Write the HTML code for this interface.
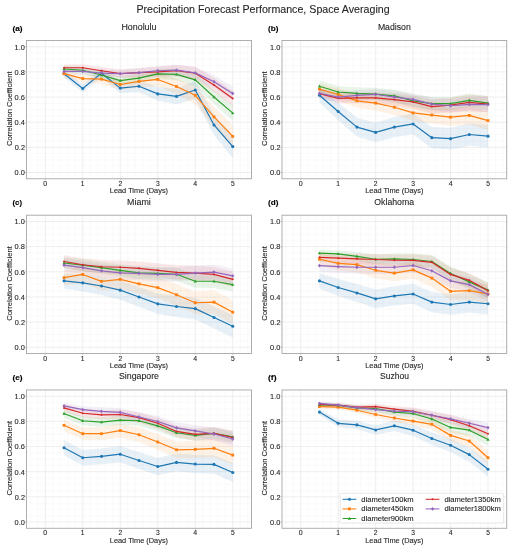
<!DOCTYPE html>
<html><head><meta charset="utf-8"><style>html,body{margin:0;padding:0;background:#fff;width:513px;height:550px;overflow:hidden}</style></head><body>
<svg width="513" height="550" viewBox="0 0 513 550" style="display:block;filter:blur(0.35px)">
<rect width="513" height="550" fill="#fff"/>
<text x="136.45" y="12.70" font-family="Liberation Sans, sans-serif" font-size="10.02" stroke="#262626" stroke-width="0.1" fill="#262626" textLength="253.18" lengthAdjust="spacingAndGlyphs">Precipitation Forecast Performance, Space Averaging</text>
<line x1="30.25" y1="40.46" x2="30.25" y2="178.79" stroke="#f8f8f8" stroke-width="0.7"/>
<line x1="37.75" y1="40.46" x2="37.75" y2="178.79" stroke="#f8f8f8" stroke-width="0.7"/>
<line x1="52.75" y1="40.46" x2="52.75" y2="178.79" stroke="#f8f8f8" stroke-width="0.7"/>
<line x1="60.25" y1="40.46" x2="60.25" y2="178.79" stroke="#f8f8f8" stroke-width="0.7"/>
<line x1="67.75" y1="40.46" x2="67.75" y2="178.79" stroke="#f8f8f8" stroke-width="0.7"/>
<line x1="75.25" y1="40.46" x2="75.25" y2="178.79" stroke="#f8f8f8" stroke-width="0.7"/>
<line x1="90.25" y1="40.46" x2="90.25" y2="178.79" stroke="#f8f8f8" stroke-width="0.7"/>
<line x1="97.75" y1="40.46" x2="97.75" y2="178.79" stroke="#f8f8f8" stroke-width="0.7"/>
<line x1="105.25" y1="40.46" x2="105.25" y2="178.79" stroke="#f8f8f8" stroke-width="0.7"/>
<line x1="112.75" y1="40.46" x2="112.75" y2="178.79" stroke="#f8f8f8" stroke-width="0.7"/>
<line x1="127.75" y1="40.46" x2="127.75" y2="178.79" stroke="#f8f8f8" stroke-width="0.7"/>
<line x1="135.25" y1="40.46" x2="135.25" y2="178.79" stroke="#f8f8f8" stroke-width="0.7"/>
<line x1="142.75" y1="40.46" x2="142.75" y2="178.79" stroke="#f8f8f8" stroke-width="0.7"/>
<line x1="150.25" y1="40.46" x2="150.25" y2="178.79" stroke="#f8f8f8" stroke-width="0.7"/>
<line x1="165.25" y1="40.46" x2="165.25" y2="178.79" stroke="#f8f8f8" stroke-width="0.7"/>
<line x1="172.75" y1="40.46" x2="172.75" y2="178.79" stroke="#f8f8f8" stroke-width="0.7"/>
<line x1="180.25" y1="40.46" x2="180.25" y2="178.79" stroke="#f8f8f8" stroke-width="0.7"/>
<line x1="187.75" y1="40.46" x2="187.75" y2="178.79" stroke="#f8f8f8" stroke-width="0.7"/>
<line x1="202.75" y1="40.46" x2="202.75" y2="178.79" stroke="#f8f8f8" stroke-width="0.7"/>
<line x1="210.25" y1="40.46" x2="210.25" y2="178.79" stroke="#f8f8f8" stroke-width="0.7"/>
<line x1="217.75" y1="40.46" x2="217.75" y2="178.79" stroke="#f8f8f8" stroke-width="0.7"/>
<line x1="225.25" y1="40.46" x2="225.25" y2="178.79" stroke="#f8f8f8" stroke-width="0.7"/>
<line x1="240.25" y1="40.46" x2="240.25" y2="178.79" stroke="#f8f8f8" stroke-width="0.7"/>
<line x1="247.75" y1="40.46" x2="247.75" y2="178.79" stroke="#f8f8f8" stroke-width="0.7"/>
<line x1="26.50" y1="166.21" x2="251.50" y2="166.21" stroke="#f8f8f8" stroke-width="0.7"/>
<line x1="26.50" y1="159.93" x2="251.50" y2="159.93" stroke="#f8f8f8" stroke-width="0.7"/>
<line x1="26.50" y1="153.64" x2="251.50" y2="153.64" stroke="#f8f8f8" stroke-width="0.7"/>
<line x1="26.50" y1="141.06" x2="251.50" y2="141.06" stroke="#f8f8f8" stroke-width="0.7"/>
<line x1="26.50" y1="134.77" x2="251.50" y2="134.77" stroke="#f8f8f8" stroke-width="0.7"/>
<line x1="26.50" y1="128.49" x2="251.50" y2="128.49" stroke="#f8f8f8" stroke-width="0.7"/>
<line x1="26.50" y1="115.91" x2="251.50" y2="115.91" stroke="#f8f8f8" stroke-width="0.7"/>
<line x1="26.50" y1="109.62" x2="251.50" y2="109.62" stroke="#f8f8f8" stroke-width="0.7"/>
<line x1="26.50" y1="103.34" x2="251.50" y2="103.34" stroke="#f8f8f8" stroke-width="0.7"/>
<line x1="26.50" y1="90.76" x2="251.50" y2="90.76" stroke="#f8f8f8" stroke-width="0.7"/>
<line x1="26.50" y1="84.47" x2="251.50" y2="84.47" stroke="#f8f8f8" stroke-width="0.7"/>
<line x1="26.50" y1="78.19" x2="251.50" y2="78.19" stroke="#f8f8f8" stroke-width="0.7"/>
<line x1="26.50" y1="65.61" x2="251.50" y2="65.61" stroke="#f8f8f8" stroke-width="0.7"/>
<line x1="26.50" y1="59.32" x2="251.50" y2="59.32" stroke="#f8f8f8" stroke-width="0.7"/>
<line x1="26.50" y1="53.04" x2="251.50" y2="53.04" stroke="#f8f8f8" stroke-width="0.7"/>
<line x1="45.25" y1="40.46" x2="45.25" y2="178.79" stroke="#ececec" stroke-width="0.9"/>
<line x1="82.75" y1="40.46" x2="82.75" y2="178.79" stroke="#ececec" stroke-width="0.9"/>
<line x1="120.25" y1="40.46" x2="120.25" y2="178.79" stroke="#ececec" stroke-width="0.9"/>
<line x1="157.75" y1="40.46" x2="157.75" y2="178.79" stroke="#ececec" stroke-width="0.9"/>
<line x1="195.25" y1="40.46" x2="195.25" y2="178.79" stroke="#ececec" stroke-width="0.9"/>
<line x1="232.75" y1="40.46" x2="232.75" y2="178.79" stroke="#ececec" stroke-width="0.9"/>
<line x1="26.50" y1="172.50" x2="251.50" y2="172.50" stroke="#ececec" stroke-width="0.9"/>
<line x1="26.50" y1="147.35" x2="251.50" y2="147.35" stroke="#ececec" stroke-width="0.9"/>
<line x1="26.50" y1="122.20" x2="251.50" y2="122.20" stroke="#ececec" stroke-width="0.9"/>
<line x1="26.50" y1="97.05" x2="251.50" y2="97.05" stroke="#ececec" stroke-width="0.9"/>
<line x1="26.50" y1="71.90" x2="251.50" y2="71.90" stroke="#ececec" stroke-width="0.9"/>
<line x1="26.50" y1="46.75" x2="251.50" y2="46.75" stroke="#ececec" stroke-width="0.9"/>
<polygon points="64.00,69.89 82.75,84.45 101.50,68.59 120.25,82.90 139.00,80.23 157.75,87.01 176.50,88.54 195.25,81.06 214.00,114.87 232.75,135.28 232.75,157.91 214.00,135.06 195.25,98.96 176.50,104.30 157.75,100.80 139.00,92.24 120.25,93.35 101.50,77.72 82.75,92.55 64.00,77.43" fill="#1f77b4" fill-opacity="0.1"/>
<polygon points="64.00,69.89 82.75,74.51 101.50,74.63 120.25,79.25 139.00,75.45 157.75,72.55 176.50,78.61 195.25,86.34 214.00,106.82 232.75,125.09 232.75,147.73 214.00,127.01 195.25,104.24 176.50,94.37 157.75,86.34 139.00,87.47 120.25,89.70 101.50,83.76 82.75,82.62 64.00,77.43" fill="#ff7f0e" fill-opacity="0.1"/>
<polygon points="64.00,65.86 82.75,66.87 101.50,71.28 120.25,76.38 139.00,73.51 157.75,68.72 176.50,68.67 195.25,73.50 214.00,90.13 232.75,105.60 232.75,120.69 214.00,103.97 195.25,86.14 176.50,80.16 157.75,79.11 139.00,82.86 120.25,84.78 101.50,78.81 82.75,73.66 64.00,72.15" fill="#2ca02c" fill-opacity="0.1"/>
<polygon points="64.00,64.61 82.75,64.35 101.50,67.00 120.25,69.46 139.00,67.98 157.75,66.71 176.50,64.90 195.25,66.84 214.00,78.06 232.75,90.89 232.75,105.98 214.00,91.90 195.25,79.48 176.50,76.38 157.75,77.09 139.00,77.33 120.25,77.86 101.50,74.53 82.75,71.15 64.00,70.89" fill="#d62728" fill-opacity="0.1"/>
<polygon points="64.00,68.25 82.75,68.04 101.50,69.48 120.25,69.61 139.00,68.20 157.75,65.87 176.50,64.77 195.25,67.04 214.00,75.33 232.75,86.49 232.75,100.32 214.00,88.09 195.25,78.77 176.50,75.51 157.75,75.67 139.00,77.11 120.25,77.71 101.50,76.84 82.75,74.76 64.00,74.54" fill="#9467bd" fill-opacity="0.1"/>
<polyline points="64.00,73.66 82.75,88.50 101.50,73.16 120.25,88.12 139.00,86.24 157.75,93.91 176.50,96.42 195.25,90.01 214.00,124.97 232.75,146.60" fill="none" stroke="#1f77b4" stroke-width="1.2" stroke-linejoin="round"/>
<circle cx="64.00" cy="73.66" r="1.55" fill="#1f77b4"/>
<circle cx="82.75" cy="88.50" r="1.55" fill="#1f77b4"/>
<circle cx="101.50" cy="73.16" r="1.55" fill="#1f77b4"/>
<circle cx="120.25" cy="88.12" r="1.55" fill="#1f77b4"/>
<circle cx="139.00" cy="86.24" r="1.55" fill="#1f77b4"/>
<circle cx="157.75" cy="93.91" r="1.55" fill="#1f77b4"/>
<circle cx="176.50" cy="96.42" r="1.55" fill="#1f77b4"/>
<circle cx="195.25" cy="90.01" r="1.55" fill="#1f77b4"/>
<circle cx="214.00" cy="124.97" r="1.55" fill="#1f77b4"/>
<circle cx="232.75" cy="146.60" r="1.55" fill="#1f77b4"/>
<polyline points="64.00,73.66 82.75,78.56 101.50,79.19 120.25,84.48 139.00,81.46 157.75,79.44 176.50,86.49 195.25,95.29 214.00,116.92 232.75,136.41" fill="none" stroke="#ff7f0e" stroke-width="1.2" stroke-linejoin="round"/>
<rect x="62.60" y="72.26" width="2.8" height="2.8" fill="#ff7f0e"/>
<rect x="81.35" y="77.16" width="2.8" height="2.8" fill="#ff7f0e"/>
<rect x="100.10" y="77.79" width="2.8" height="2.8" fill="#ff7f0e"/>
<rect x="118.85" y="83.08" width="2.8" height="2.8" fill="#ff7f0e"/>
<rect x="137.60" y="80.06" width="2.8" height="2.8" fill="#ff7f0e"/>
<rect x="156.35" y="78.04" width="2.8" height="2.8" fill="#ff7f0e"/>
<rect x="175.10" y="85.09" width="2.8" height="2.8" fill="#ff7f0e"/>
<rect x="193.85" y="93.89" width="2.8" height="2.8" fill="#ff7f0e"/>
<rect x="212.60" y="115.52" width="2.8" height="2.8" fill="#ff7f0e"/>
<rect x="231.35" y="135.01" width="2.8" height="2.8" fill="#ff7f0e"/>
<polyline points="64.00,69.01 82.75,70.27 101.50,75.04 120.25,80.58 139.00,78.19 157.75,73.91 176.50,74.41 195.25,79.82 214.00,97.05 232.75,113.15" fill="none" stroke="#2ca02c" stroke-width="1.2" stroke-linejoin="round"/>
<polygon points="64.00,67.30 65.60,70.18 62.40,70.18" fill="#2ca02c"/>
<polygon points="82.75,68.55 84.35,71.43 81.15,71.43" fill="#2ca02c"/>
<polygon points="101.50,73.33 103.10,76.21 99.90,76.21" fill="#2ca02c"/>
<polygon points="120.25,78.86 121.85,81.74 118.65,81.74" fill="#2ca02c"/>
<polygon points="139.00,76.48 140.60,79.36 137.40,79.36" fill="#2ca02c"/>
<polygon points="157.75,72.20 159.35,75.08 156.15,75.08" fill="#2ca02c"/>
<polygon points="176.50,72.70 178.10,75.58 174.90,75.58" fill="#2ca02c"/>
<polygon points="195.25,78.11 196.85,80.99 193.65,80.99" fill="#2ca02c"/>
<polygon points="214.00,95.34 215.60,98.22 212.40,98.22" fill="#2ca02c"/>
<polygon points="232.75,111.43 234.35,114.31 231.15,114.31" fill="#2ca02c"/>
<polyline points="64.00,67.75 82.75,67.75 101.50,70.77 120.25,73.66 139.00,72.65 157.75,71.90 176.50,70.64 195.25,73.16 214.00,84.98 232.75,98.43" fill="none" stroke="#d62728" stroke-width="1.2" stroke-linejoin="round"/>
<circle cx="64.00" cy="67.75" r="1.0" fill="#d62728"/>
<circle cx="82.75" cy="67.75" r="1.0" fill="#d62728"/>
<circle cx="101.50" cy="70.77" r="1.0" fill="#d62728"/>
<circle cx="120.25" cy="73.66" r="1.0" fill="#d62728"/>
<circle cx="139.00" cy="72.65" r="1.0" fill="#d62728"/>
<circle cx="157.75" cy="71.90" r="1.0" fill="#d62728"/>
<circle cx="176.50" cy="70.64" r="1.0" fill="#d62728"/>
<circle cx="195.25" cy="73.16" r="1.0" fill="#d62728"/>
<circle cx="214.00" cy="84.98" r="1.0" fill="#d62728"/>
<circle cx="232.75" cy="98.43" r="1.0" fill="#d62728"/>
<polyline points="64.00,71.40 82.75,71.40 101.50,73.16 120.25,73.66 139.00,72.65 157.75,70.77 176.50,70.14 195.25,72.91 214.00,81.71 232.75,93.40" fill="none" stroke="#9467bd" stroke-width="1.2" stroke-linejoin="round"/>
<polygon points="64.00,69.50 65.61,71.40 64.00,73.30 62.38,71.40" fill="#9467bd"/>
<polygon points="82.75,69.50 84.36,71.40 82.75,73.30 81.14,71.40" fill="#9467bd"/>
<polygon points="101.50,71.26 103.11,73.16 101.50,75.06 99.89,73.16" fill="#9467bd"/>
<polygon points="120.25,71.76 121.86,73.66 120.25,75.56 118.64,73.66" fill="#9467bd"/>
<polygon points="139.00,70.75 140.62,72.65 139.00,74.55 137.38,72.65" fill="#9467bd"/>
<polygon points="157.75,68.87 159.37,70.77 157.75,72.67 156.13,70.77" fill="#9467bd"/>
<polygon points="176.50,68.24 178.12,70.14 176.50,72.04 174.88,70.14" fill="#9467bd"/>
<polygon points="195.25,71.01 196.87,72.91 195.25,74.81 193.63,72.91" fill="#9467bd"/>
<polygon points="214.00,79.81 215.62,81.71 214.00,83.61 212.38,81.71" fill="#9467bd"/>
<polygon points="232.75,91.50 234.37,93.40 232.75,95.30 231.13,93.40" fill="#9467bd"/>
<rect x="26.50" y="40.46" width="225.00" height="138.32" fill="none" stroke="#a6a6a6" stroke-width="0.9"/>
<line x1="45.25" y1="178.79" x2="45.25" y2="180.39" stroke="#bdbdbd" stroke-width="0.8"/>
<text x="43.29" y="185.99" font-family="Liberation Sans, sans-serif" font-size="6.99" stroke="#262626" stroke-width="0.1" fill="#262626" textLength="3.90" lengthAdjust="spacingAndGlyphs">0</text>
<line x1="82.75" y1="178.79" x2="82.75" y2="180.39" stroke="#bdbdbd" stroke-width="0.8"/>
<text x="80.80" y="185.99" font-family="Liberation Sans, sans-serif" font-size="6.99" stroke="#262626" stroke-width="0.1" fill="#262626" textLength="3.71" lengthAdjust="spacingAndGlyphs">1</text>
<line x1="120.25" y1="178.79" x2="120.25" y2="180.39" stroke="#bdbdbd" stroke-width="0.8"/>
<text x="118.38" y="185.99" font-family="Liberation Sans, sans-serif" font-size="6.99" stroke="#262626" stroke-width="0.1" fill="#262626" textLength="3.75" lengthAdjust="spacingAndGlyphs">2</text>
<line x1="157.75" y1="178.79" x2="157.75" y2="180.39" stroke="#bdbdbd" stroke-width="0.8"/>
<text x="155.88" y="185.99" font-family="Liberation Sans, sans-serif" font-size="6.99" stroke="#262626" stroke-width="0.1" fill="#262626" textLength="3.75" lengthAdjust="spacingAndGlyphs">3</text>
<line x1="195.25" y1="178.79" x2="195.25" y2="180.39" stroke="#bdbdbd" stroke-width="0.8"/>
<text x="193.34" y="185.99" font-family="Liberation Sans, sans-serif" font-size="6.99" stroke="#262626" stroke-width="0.1" fill="#262626" textLength="3.89" lengthAdjust="spacingAndGlyphs">4</text>
<line x1="232.75" y1="178.79" x2="232.75" y2="180.39" stroke="#bdbdbd" stroke-width="0.8"/>
<text x="230.90" y="185.99" font-family="Liberation Sans, sans-serif" font-size="6.99" stroke="#262626" stroke-width="0.1" fill="#262626" textLength="3.71" lengthAdjust="spacingAndGlyphs">5</text>
<line x1="24.90" y1="172.50" x2="26.50" y2="172.50" stroke="#bdbdbd" stroke-width="0.8"/>
<text x="14.57" y="175.30" font-family="Liberation Sans, sans-serif" font-size="6.99" stroke="#262626" stroke-width="0.1" fill="#262626" textLength="10.29" lengthAdjust="spacingAndGlyphs">0.0</text>
<line x1="24.90" y1="147.35" x2="26.50" y2="147.35" stroke="#bdbdbd" stroke-width="0.8"/>
<text x="14.80" y="150.15" font-family="Liberation Sans, sans-serif" font-size="6.99" stroke="#262626" stroke-width="0.1" fill="#262626" textLength="10.16" lengthAdjust="spacingAndGlyphs">0.2</text>
<line x1="24.90" y1="122.20" x2="26.50" y2="122.20" stroke="#bdbdbd" stroke-width="0.8"/>
<text x="14.50" y="125.00" font-family="Liberation Sans, sans-serif" font-size="6.99" stroke="#262626" stroke-width="0.1" fill="#262626" textLength="10.33" lengthAdjust="spacingAndGlyphs">0.4</text>
<line x1="24.90" y1="97.05" x2="26.50" y2="97.05" stroke="#bdbdbd" stroke-width="0.8"/>
<text x="14.53" y="99.85" font-family="Liberation Sans, sans-serif" font-size="6.99" stroke="#262626" stroke-width="0.1" fill="#262626" textLength="10.37" lengthAdjust="spacingAndGlyphs">0.6</text>
<line x1="24.90" y1="71.90" x2="26.50" y2="71.90" stroke="#bdbdbd" stroke-width="0.8"/>
<text x="14.56" y="74.70" font-family="Liberation Sans, sans-serif" font-size="6.99" stroke="#262626" stroke-width="0.1" fill="#262626" textLength="10.33" lengthAdjust="spacingAndGlyphs">0.8</text>
<line x1="24.90" y1="46.75" x2="26.50" y2="46.75" stroke="#bdbdbd" stroke-width="0.8"/>
<text x="14.61" y="49.55" font-family="Liberation Sans, sans-serif" font-size="6.99" stroke="#262626" stroke-width="0.1" fill="#262626" textLength="10.25" lengthAdjust="spacingAndGlyphs">1.0</text>
<text x="109.81" y="193.49" font-family="Liberation Sans, sans-serif" font-size="6.99" stroke="#262626" stroke-width="0.1" fill="#262626" textLength="58.24" lengthAdjust="spacingAndGlyphs">Lead Time (Days)</text>
<text transform="translate(11.70,108.62) rotate(-90)" x="-37.45" y="0" font-family="Liberation Sans, sans-serif" font-size="6.99" stroke="#262626" stroke-width="0.1" fill="#262626" textLength="74.56" lengthAdjust="spacingAndGlyphs">Correlation Coefficient</text>
<text x="121.42" y="29.90" font-family="Liberation Sans, sans-serif" font-size="8.33" stroke="#262626" stroke-width="0.1" fill="#262626" textLength="35.06" lengthAdjust="spacingAndGlyphs">Honolulu</text>
<text x="12.48" y="30.56" font-family="Liberation Sans, sans-serif" font-size="6.92" font-weight="bold" stroke="#000" stroke-width="0.1" fill="#000" textLength="10.15" lengthAdjust="spacingAndGlyphs">(a)</text>
<line x1="285.75" y1="40.46" x2="285.75" y2="178.79" stroke="#f8f8f8" stroke-width="0.7"/>
<line x1="293.24" y1="40.46" x2="293.24" y2="178.79" stroke="#f8f8f8" stroke-width="0.7"/>
<line x1="308.22" y1="40.46" x2="308.22" y2="178.79" stroke="#f8f8f8" stroke-width="0.7"/>
<line x1="315.71" y1="40.46" x2="315.71" y2="178.79" stroke="#f8f8f8" stroke-width="0.7"/>
<line x1="323.20" y1="40.46" x2="323.20" y2="178.79" stroke="#f8f8f8" stroke-width="0.7"/>
<line x1="330.70" y1="40.46" x2="330.70" y2="178.79" stroke="#f8f8f8" stroke-width="0.7"/>
<line x1="345.68" y1="40.46" x2="345.68" y2="178.79" stroke="#f8f8f8" stroke-width="0.7"/>
<line x1="353.17" y1="40.46" x2="353.17" y2="178.79" stroke="#f8f8f8" stroke-width="0.7"/>
<line x1="360.66" y1="40.46" x2="360.66" y2="178.79" stroke="#f8f8f8" stroke-width="0.7"/>
<line x1="368.15" y1="40.46" x2="368.15" y2="178.79" stroke="#f8f8f8" stroke-width="0.7"/>
<line x1="383.14" y1="40.46" x2="383.14" y2="178.79" stroke="#f8f8f8" stroke-width="0.7"/>
<line x1="390.63" y1="40.46" x2="390.63" y2="178.79" stroke="#f8f8f8" stroke-width="0.7"/>
<line x1="398.12" y1="40.46" x2="398.12" y2="178.79" stroke="#f8f8f8" stroke-width="0.7"/>
<line x1="405.61" y1="40.46" x2="405.61" y2="178.79" stroke="#f8f8f8" stroke-width="0.7"/>
<line x1="420.60" y1="40.46" x2="420.60" y2="178.79" stroke="#f8f8f8" stroke-width="0.7"/>
<line x1="428.09" y1="40.46" x2="428.09" y2="178.79" stroke="#f8f8f8" stroke-width="0.7"/>
<line x1="435.58" y1="40.46" x2="435.58" y2="178.79" stroke="#f8f8f8" stroke-width="0.7"/>
<line x1="443.07" y1="40.46" x2="443.07" y2="178.79" stroke="#f8f8f8" stroke-width="0.7"/>
<line x1="458.05" y1="40.46" x2="458.05" y2="178.79" stroke="#f8f8f8" stroke-width="0.7"/>
<line x1="465.55" y1="40.46" x2="465.55" y2="178.79" stroke="#f8f8f8" stroke-width="0.7"/>
<line x1="473.04" y1="40.46" x2="473.04" y2="178.79" stroke="#f8f8f8" stroke-width="0.7"/>
<line x1="480.53" y1="40.46" x2="480.53" y2="178.79" stroke="#f8f8f8" stroke-width="0.7"/>
<line x1="495.51" y1="40.46" x2="495.51" y2="178.79" stroke="#f8f8f8" stroke-width="0.7"/>
<line x1="503.00" y1="40.46" x2="503.00" y2="178.79" stroke="#f8f8f8" stroke-width="0.7"/>
<line x1="282.00" y1="166.21" x2="506.75" y2="166.21" stroke="#f8f8f8" stroke-width="0.7"/>
<line x1="282.00" y1="159.93" x2="506.75" y2="159.93" stroke="#f8f8f8" stroke-width="0.7"/>
<line x1="282.00" y1="153.64" x2="506.75" y2="153.64" stroke="#f8f8f8" stroke-width="0.7"/>
<line x1="282.00" y1="141.06" x2="506.75" y2="141.06" stroke="#f8f8f8" stroke-width="0.7"/>
<line x1="282.00" y1="134.77" x2="506.75" y2="134.77" stroke="#f8f8f8" stroke-width="0.7"/>
<line x1="282.00" y1="128.49" x2="506.75" y2="128.49" stroke="#f8f8f8" stroke-width="0.7"/>
<line x1="282.00" y1="115.91" x2="506.75" y2="115.91" stroke="#f8f8f8" stroke-width="0.7"/>
<line x1="282.00" y1="109.62" x2="506.75" y2="109.62" stroke="#f8f8f8" stroke-width="0.7"/>
<line x1="282.00" y1="103.34" x2="506.75" y2="103.34" stroke="#f8f8f8" stroke-width="0.7"/>
<line x1="282.00" y1="90.76" x2="506.75" y2="90.76" stroke="#f8f8f8" stroke-width="0.7"/>
<line x1="282.00" y1="84.47" x2="506.75" y2="84.47" stroke="#f8f8f8" stroke-width="0.7"/>
<line x1="282.00" y1="78.19" x2="506.75" y2="78.19" stroke="#f8f8f8" stroke-width="0.7"/>
<line x1="282.00" y1="65.61" x2="506.75" y2="65.61" stroke="#f8f8f8" stroke-width="0.7"/>
<line x1="282.00" y1="59.32" x2="506.75" y2="59.32" stroke="#f8f8f8" stroke-width="0.7"/>
<line x1="282.00" y1="53.04" x2="506.75" y2="53.04" stroke="#f8f8f8" stroke-width="0.7"/>
<line x1="300.73" y1="40.46" x2="300.73" y2="178.79" stroke="#ececec" stroke-width="0.9"/>
<line x1="338.19" y1="40.46" x2="338.19" y2="178.79" stroke="#ececec" stroke-width="0.9"/>
<line x1="375.65" y1="40.46" x2="375.65" y2="178.79" stroke="#ececec" stroke-width="0.9"/>
<line x1="413.10" y1="40.46" x2="413.10" y2="178.79" stroke="#ececec" stroke-width="0.9"/>
<line x1="450.56" y1="40.46" x2="450.56" y2="178.79" stroke="#ececec" stroke-width="0.9"/>
<line x1="488.02" y1="40.46" x2="488.02" y2="178.79" stroke="#ececec" stroke-width="0.9"/>
<line x1="282.00" y1="172.50" x2="506.75" y2="172.50" stroke="#ececec" stroke-width="0.9"/>
<line x1="282.00" y1="147.35" x2="506.75" y2="147.35" stroke="#ececec" stroke-width="0.9"/>
<line x1="282.00" y1="122.20" x2="506.75" y2="122.20" stroke="#ececec" stroke-width="0.9"/>
<line x1="282.00" y1="97.05" x2="506.75" y2="97.05" stroke="#ececec" stroke-width="0.9"/>
<line x1="282.00" y1="71.90" x2="506.75" y2="71.90" stroke="#ececec" stroke-width="0.9"/>
<line x1="282.00" y1="46.75" x2="506.75" y2="46.75" stroke="#ececec" stroke-width="0.9"/>
<polygon points="319.46,88.37 338.19,102.77 356.92,117.78 375.65,122.63 394.38,117.01 413.10,113.57 431.83,127.01 450.56,127.78 469.29,123.41 488.02,124.84 488.02,147.48 469.29,145.64 450.56,149.57 431.83,148.33 413.10,134.36 394.38,137.20 375.65,142.14 356.92,136.43 338.19,120.26 319.46,102.21" fill="#1f77b4" fill-opacity="0.1"/>
<polygon points="319.46,84.10 338.19,88.33 356.92,94.01 375.65,95.78 394.38,99.50 413.10,104.77 431.83,106.55 450.56,108.35 469.29,106.28 488.02,111.13 488.02,130.00 469.29,124.54 450.56,125.99 431.83,123.51 413.10,121.02 394.38,114.97 375.65,110.39 356.92,107.64 338.19,100.74 319.46,94.16" fill="#ff7f0e" fill-opacity="0.1"/>
<polygon points="319.46,80.58 338.19,86.22 356.92,87.34 375.65,87.95 394.38,89.57 413.10,94.47 431.83,97.09 450.56,96.95 469.29,93.54 488.02,96.17 488.02,110.00 469.29,107.10 450.56,110.23 431.83,110.09 413.10,107.18 394.38,102.01 375.65,100.11 356.92,99.22 338.19,97.82 319.46,91.89" fill="#2ca02c" fill-opacity="0.1"/>
<polygon points="319.46,89.25 338.19,93.49 356.92,92.56 375.65,92.15 394.38,93.49 413.10,95.46 431.83,99.69 450.56,97.76 469.29,94.70 488.02,95.92 488.02,112.27 469.29,110.21 450.56,112.43 431.83,113.52 413.10,108.45 394.38,105.64 375.65,103.46 356.92,103.04 338.19,103.13 319.46,98.06" fill="#d62728" fill-opacity="0.1"/>
<polygon points="319.46,88.88 338.19,92.30 356.92,90.19 375.65,88.83 394.38,91.25 413.10,93.29 431.83,97.59 450.56,98.88 469.29,97.27 488.02,97.05 488.02,112.14 469.29,111.66 450.56,112.57 431.83,110.59 413.10,105.59 394.38,102.85 375.65,99.73 356.92,100.39 338.19,101.80 319.46,97.68" fill="#9467bd" fill-opacity="0.1"/>
<polyline points="319.46,95.29 338.19,111.51 356.92,127.10 375.65,132.39 394.38,127.10 413.10,123.96 431.83,137.67 450.56,138.67 469.29,134.52 488.02,136.16" fill="none" stroke="#1f77b4" stroke-width="1.2" stroke-linejoin="round"/>
<circle cx="319.46" cy="95.29" r="1.55" fill="#1f77b4"/>
<circle cx="338.19" cy="111.51" r="1.55" fill="#1f77b4"/>
<circle cx="356.92" cy="127.10" r="1.55" fill="#1f77b4"/>
<circle cx="375.65" cy="132.39" r="1.55" fill="#1f77b4"/>
<circle cx="394.38" cy="127.10" r="1.55" fill="#1f77b4"/>
<circle cx="413.10" cy="123.96" r="1.55" fill="#1f77b4"/>
<circle cx="431.83" cy="137.67" r="1.55" fill="#1f77b4"/>
<circle cx="450.56" cy="138.67" r="1.55" fill="#1f77b4"/>
<circle cx="469.29" cy="134.52" r="1.55" fill="#1f77b4"/>
<circle cx="488.02" cy="136.16" r="1.55" fill="#1f77b4"/>
<polyline points="319.46,89.13 338.19,94.53 356.92,100.82 375.65,103.09 394.38,107.24 413.10,112.89 431.83,115.03 450.56,117.17 469.29,115.41 488.02,120.57" fill="none" stroke="#ff7f0e" stroke-width="1.2" stroke-linejoin="round"/>
<rect x="318.06" y="87.73" width="2.8" height="2.8" fill="#ff7f0e"/>
<rect x="336.79" y="93.13" width="2.8" height="2.8" fill="#ff7f0e"/>
<rect x="355.52" y="99.42" width="2.8" height="2.8" fill="#ff7f0e"/>
<rect x="374.25" y="101.69" width="2.8" height="2.8" fill="#ff7f0e"/>
<rect x="392.98" y="105.84" width="2.8" height="2.8" fill="#ff7f0e"/>
<rect x="411.70" y="111.49" width="2.8" height="2.8" fill="#ff7f0e"/>
<rect x="430.43" y="113.63" width="2.8" height="2.8" fill="#ff7f0e"/>
<rect x="449.16" y="115.77" width="2.8" height="2.8" fill="#ff7f0e"/>
<rect x="467.89" y="114.01" width="2.8" height="2.8" fill="#ff7f0e"/>
<rect x="486.62" y="119.17" width="2.8" height="2.8" fill="#ff7f0e"/>
<polyline points="319.46,86.24 338.19,92.02 356.92,93.28 375.65,94.03 394.38,95.79 413.10,100.82 431.83,103.59 450.56,103.59 469.29,100.32 488.02,103.09" fill="none" stroke="#2ca02c" stroke-width="1.2" stroke-linejoin="round"/>
<polygon points="319.46,84.52 321.06,87.40 317.86,87.40" fill="#2ca02c"/>
<polygon points="338.19,90.31 339.79,93.19 336.59,93.19" fill="#2ca02c"/>
<polygon points="356.92,91.57 358.52,94.45 355.32,94.45" fill="#2ca02c"/>
<polygon points="375.65,92.32 377.25,95.20 374.05,95.20" fill="#2ca02c"/>
<polygon points="394.38,94.08 395.98,96.96 392.77,96.96" fill="#2ca02c"/>
<polygon points="413.10,99.11 414.70,101.99 411.50,101.99" fill="#2ca02c"/>
<polygon points="431.83,101.88 433.43,104.76 430.23,104.76" fill="#2ca02c"/>
<polygon points="450.56,101.88 452.16,104.76 448.96,104.76" fill="#2ca02c"/>
<polygon points="469.29,98.61 470.89,101.49 467.69,101.49" fill="#2ca02c"/>
<polygon points="488.02,101.37 489.62,104.25 486.42,104.25" fill="#2ca02c"/>
<polyline points="319.46,93.65 338.19,98.31 356.92,97.80 375.65,97.80 394.38,99.56 413.10,101.95 431.83,106.61 450.56,105.10 469.29,102.46 488.02,104.09" fill="none" stroke="#d62728" stroke-width="1.2" stroke-linejoin="round"/>
<circle cx="319.46" cy="93.65" r="1.0" fill="#d62728"/>
<circle cx="338.19" cy="98.31" r="1.0" fill="#d62728"/>
<circle cx="356.92" cy="97.80" r="1.0" fill="#d62728"/>
<circle cx="375.65" cy="97.80" r="1.0" fill="#d62728"/>
<circle cx="394.38" cy="99.56" r="1.0" fill="#d62728"/>
<circle cx="413.10" cy="101.95" r="1.0" fill="#d62728"/>
<circle cx="431.83" cy="106.61" r="1.0" fill="#d62728"/>
<circle cx="450.56" cy="105.10" r="1.0" fill="#d62728"/>
<circle cx="469.29" cy="102.46" r="1.0" fill="#d62728"/>
<circle cx="488.02" cy="104.09" r="1.0" fill="#d62728"/>
<polyline points="319.46,93.28 338.19,97.05 356.92,95.29 375.65,94.28 394.38,97.05 413.10,99.44 431.83,104.09 450.56,105.73 469.29,104.47 488.02,104.59" fill="none" stroke="#9467bd" stroke-width="1.2" stroke-linejoin="round"/>
<polygon points="319.46,91.38 321.07,93.28 319.46,95.18 317.84,93.28" fill="#9467bd"/>
<polygon points="338.19,95.15 339.80,97.05 338.19,98.95 336.57,97.05" fill="#9467bd"/>
<polygon points="356.92,93.39 358.53,95.29 356.92,97.19 355.30,95.29" fill="#9467bd"/>
<polygon points="375.65,92.38 377.26,94.28 375.65,96.18 374.03,94.28" fill="#9467bd"/>
<polygon points="394.38,95.15 395.99,97.05 394.38,98.95 392.76,97.05" fill="#9467bd"/>
<polygon points="413.10,97.54 414.72,99.44 413.10,101.34 411.49,99.44" fill="#9467bd"/>
<polygon points="431.83,102.19 433.45,104.09 431.83,105.99 430.22,104.09" fill="#9467bd"/>
<polygon points="450.56,103.83 452.18,105.73 450.56,107.63 448.95,105.73" fill="#9467bd"/>
<polygon points="469.29,102.57 470.91,104.47 469.29,106.37 467.68,104.47" fill="#9467bd"/>
<polygon points="488.02,102.69 489.64,104.59 488.02,106.50 486.41,104.59" fill="#9467bd"/>
<rect x="282.00" y="40.46" width="224.75" height="138.32" fill="none" stroke="#a6a6a6" stroke-width="0.9"/>
<line x1="300.73" y1="178.79" x2="300.73" y2="180.39" stroke="#bdbdbd" stroke-width="0.8"/>
<text x="298.76" y="185.99" font-family="Liberation Sans, sans-serif" font-size="6.99" stroke="#262626" stroke-width="0.1" fill="#262626" textLength="3.90" lengthAdjust="spacingAndGlyphs">0</text>
<line x1="338.19" y1="178.79" x2="338.19" y2="180.39" stroke="#bdbdbd" stroke-width="0.8"/>
<text x="336.24" y="185.99" font-family="Liberation Sans, sans-serif" font-size="6.99" stroke="#262626" stroke-width="0.1" fill="#262626" textLength="3.71" lengthAdjust="spacingAndGlyphs">1</text>
<line x1="375.65" y1="178.79" x2="375.65" y2="180.39" stroke="#bdbdbd" stroke-width="0.8"/>
<text x="373.77" y="185.99" font-family="Liberation Sans, sans-serif" font-size="6.99" stroke="#262626" stroke-width="0.1" fill="#262626" textLength="3.75" lengthAdjust="spacingAndGlyphs">2</text>
<line x1="413.10" y1="178.79" x2="413.10" y2="180.39" stroke="#bdbdbd" stroke-width="0.8"/>
<text x="411.23" y="185.99" font-family="Liberation Sans, sans-serif" font-size="6.99" stroke="#262626" stroke-width="0.1" fill="#262626" textLength="3.75" lengthAdjust="spacingAndGlyphs">3</text>
<line x1="450.56" y1="178.79" x2="450.56" y2="180.39" stroke="#bdbdbd" stroke-width="0.8"/>
<text x="448.65" y="185.99" font-family="Liberation Sans, sans-serif" font-size="6.99" stroke="#262626" stroke-width="0.1" fill="#262626" textLength="3.89" lengthAdjust="spacingAndGlyphs">4</text>
<line x1="488.02" y1="178.79" x2="488.02" y2="180.39" stroke="#bdbdbd" stroke-width="0.8"/>
<text x="486.17" y="185.99" font-family="Liberation Sans, sans-serif" font-size="6.99" stroke="#262626" stroke-width="0.1" fill="#262626" textLength="3.71" lengthAdjust="spacingAndGlyphs">5</text>
<line x1="280.40" y1="172.50" x2="282.00" y2="172.50" stroke="#bdbdbd" stroke-width="0.8"/>
<text x="270.07" y="175.30" font-family="Liberation Sans, sans-serif" font-size="6.99" stroke="#262626" stroke-width="0.1" fill="#262626" textLength="10.29" lengthAdjust="spacingAndGlyphs">0.0</text>
<line x1="280.40" y1="147.35" x2="282.00" y2="147.35" stroke="#bdbdbd" stroke-width="0.8"/>
<text x="270.30" y="150.15" font-family="Liberation Sans, sans-serif" font-size="6.99" stroke="#262626" stroke-width="0.1" fill="#262626" textLength="10.16" lengthAdjust="spacingAndGlyphs">0.2</text>
<line x1="280.40" y1="122.20" x2="282.00" y2="122.20" stroke="#bdbdbd" stroke-width="0.8"/>
<text x="270.00" y="125.00" font-family="Liberation Sans, sans-serif" font-size="6.99" stroke="#262626" stroke-width="0.1" fill="#262626" textLength="10.33" lengthAdjust="spacingAndGlyphs">0.4</text>
<line x1="280.40" y1="97.05" x2="282.00" y2="97.05" stroke="#bdbdbd" stroke-width="0.8"/>
<text x="270.03" y="99.85" font-family="Liberation Sans, sans-serif" font-size="6.99" stroke="#262626" stroke-width="0.1" fill="#262626" textLength="10.37" lengthAdjust="spacingAndGlyphs">0.6</text>
<line x1="280.40" y1="71.90" x2="282.00" y2="71.90" stroke="#bdbdbd" stroke-width="0.8"/>
<text x="270.06" y="74.70" font-family="Liberation Sans, sans-serif" font-size="6.99" stroke="#262626" stroke-width="0.1" fill="#262626" textLength="10.33" lengthAdjust="spacingAndGlyphs">0.8</text>
<line x1="280.40" y1="46.75" x2="282.00" y2="46.75" stroke="#bdbdbd" stroke-width="0.8"/>
<text x="270.11" y="49.55" font-family="Liberation Sans, sans-serif" font-size="6.99" stroke="#262626" stroke-width="0.1" fill="#262626" textLength="10.25" lengthAdjust="spacingAndGlyphs">1.0</text>
<text x="365.19" y="193.49" font-family="Liberation Sans, sans-serif" font-size="6.99" stroke="#262626" stroke-width="0.1" fill="#262626" textLength="58.24" lengthAdjust="spacingAndGlyphs">Lead Time (Days)</text>
<text transform="translate(267.20,108.62) rotate(-90)" x="-37.45" y="0" font-family="Liberation Sans, sans-serif" font-size="6.99" stroke="#262626" stroke-width="0.1" fill="#262626" textLength="74.56" lengthAdjust="spacingAndGlyphs">Correlation Coefficient</text>
<text x="377.90" y="29.90" font-family="Liberation Sans, sans-serif" font-size="8.33" stroke="#262626" stroke-width="0.1" fill="#262626" textLength="32.82" lengthAdjust="spacingAndGlyphs">Madison</text>
<text x="267.99" y="30.56" font-family="Liberation Sans, sans-serif" font-size="6.92" font-weight="bold" stroke="#000" stroke-width="0.1" fill="#000" textLength="10.43" lengthAdjust="spacingAndGlyphs">(b)</text>
<line x1="30.25" y1="215.21" x2="30.25" y2="353.54" stroke="#f8f8f8" stroke-width="0.7"/>
<line x1="37.75" y1="215.21" x2="37.75" y2="353.54" stroke="#f8f8f8" stroke-width="0.7"/>
<line x1="52.75" y1="215.21" x2="52.75" y2="353.54" stroke="#f8f8f8" stroke-width="0.7"/>
<line x1="60.25" y1="215.21" x2="60.25" y2="353.54" stroke="#f8f8f8" stroke-width="0.7"/>
<line x1="67.75" y1="215.21" x2="67.75" y2="353.54" stroke="#f8f8f8" stroke-width="0.7"/>
<line x1="75.25" y1="215.21" x2="75.25" y2="353.54" stroke="#f8f8f8" stroke-width="0.7"/>
<line x1="90.25" y1="215.21" x2="90.25" y2="353.54" stroke="#f8f8f8" stroke-width="0.7"/>
<line x1="97.75" y1="215.21" x2="97.75" y2="353.54" stroke="#f8f8f8" stroke-width="0.7"/>
<line x1="105.25" y1="215.21" x2="105.25" y2="353.54" stroke="#f8f8f8" stroke-width="0.7"/>
<line x1="112.75" y1="215.21" x2="112.75" y2="353.54" stroke="#f8f8f8" stroke-width="0.7"/>
<line x1="127.75" y1="215.21" x2="127.75" y2="353.54" stroke="#f8f8f8" stroke-width="0.7"/>
<line x1="135.25" y1="215.21" x2="135.25" y2="353.54" stroke="#f8f8f8" stroke-width="0.7"/>
<line x1="142.75" y1="215.21" x2="142.75" y2="353.54" stroke="#f8f8f8" stroke-width="0.7"/>
<line x1="150.25" y1="215.21" x2="150.25" y2="353.54" stroke="#f8f8f8" stroke-width="0.7"/>
<line x1="165.25" y1="215.21" x2="165.25" y2="353.54" stroke="#f8f8f8" stroke-width="0.7"/>
<line x1="172.75" y1="215.21" x2="172.75" y2="353.54" stroke="#f8f8f8" stroke-width="0.7"/>
<line x1="180.25" y1="215.21" x2="180.25" y2="353.54" stroke="#f8f8f8" stroke-width="0.7"/>
<line x1="187.75" y1="215.21" x2="187.75" y2="353.54" stroke="#f8f8f8" stroke-width="0.7"/>
<line x1="202.75" y1="215.21" x2="202.75" y2="353.54" stroke="#f8f8f8" stroke-width="0.7"/>
<line x1="210.25" y1="215.21" x2="210.25" y2="353.54" stroke="#f8f8f8" stroke-width="0.7"/>
<line x1="217.75" y1="215.21" x2="217.75" y2="353.54" stroke="#f8f8f8" stroke-width="0.7"/>
<line x1="225.25" y1="215.21" x2="225.25" y2="353.54" stroke="#f8f8f8" stroke-width="0.7"/>
<line x1="240.25" y1="215.21" x2="240.25" y2="353.54" stroke="#f8f8f8" stroke-width="0.7"/>
<line x1="247.75" y1="215.21" x2="247.75" y2="353.54" stroke="#f8f8f8" stroke-width="0.7"/>
<line x1="26.50" y1="340.96" x2="251.50" y2="340.96" stroke="#f8f8f8" stroke-width="0.7"/>
<line x1="26.50" y1="334.68" x2="251.50" y2="334.68" stroke="#f8f8f8" stroke-width="0.7"/>
<line x1="26.50" y1="328.39" x2="251.50" y2="328.39" stroke="#f8f8f8" stroke-width="0.7"/>
<line x1="26.50" y1="315.81" x2="251.50" y2="315.81" stroke="#f8f8f8" stroke-width="0.7"/>
<line x1="26.50" y1="309.52" x2="251.50" y2="309.52" stroke="#f8f8f8" stroke-width="0.7"/>
<line x1="26.50" y1="303.24" x2="251.50" y2="303.24" stroke="#f8f8f8" stroke-width="0.7"/>
<line x1="26.50" y1="290.66" x2="251.50" y2="290.66" stroke="#f8f8f8" stroke-width="0.7"/>
<line x1="26.50" y1="284.38" x2="251.50" y2="284.38" stroke="#f8f8f8" stroke-width="0.7"/>
<line x1="26.50" y1="278.09" x2="251.50" y2="278.09" stroke="#f8f8f8" stroke-width="0.7"/>
<line x1="26.50" y1="265.51" x2="251.50" y2="265.51" stroke="#f8f8f8" stroke-width="0.7"/>
<line x1="26.50" y1="259.23" x2="251.50" y2="259.23" stroke="#f8f8f8" stroke-width="0.7"/>
<line x1="26.50" y1="252.94" x2="251.50" y2="252.94" stroke="#f8f8f8" stroke-width="0.7"/>
<line x1="26.50" y1="240.36" x2="251.50" y2="240.36" stroke="#f8f8f8" stroke-width="0.7"/>
<line x1="26.50" y1="234.07" x2="251.50" y2="234.07" stroke="#f8f8f8" stroke-width="0.7"/>
<line x1="26.50" y1="227.79" x2="251.50" y2="227.79" stroke="#f8f8f8" stroke-width="0.7"/>
<line x1="45.25" y1="215.21" x2="45.25" y2="353.54" stroke="#ececec" stroke-width="0.9"/>
<line x1="82.75" y1="215.21" x2="82.75" y2="353.54" stroke="#ececec" stroke-width="0.9"/>
<line x1="120.25" y1="215.21" x2="120.25" y2="353.54" stroke="#ececec" stroke-width="0.9"/>
<line x1="157.75" y1="215.21" x2="157.75" y2="353.54" stroke="#ececec" stroke-width="0.9"/>
<line x1="195.25" y1="215.21" x2="195.25" y2="353.54" stroke="#ececec" stroke-width="0.9"/>
<line x1="232.75" y1="215.21" x2="232.75" y2="353.54" stroke="#ececec" stroke-width="0.9"/>
<line x1="26.50" y1="347.25" x2="251.50" y2="347.25" stroke="#ececec" stroke-width="0.9"/>
<line x1="26.50" y1="322.10" x2="251.50" y2="322.10" stroke="#ececec" stroke-width="0.9"/>
<line x1="26.50" y1="296.95" x2="251.50" y2="296.95" stroke="#ececec" stroke-width="0.9"/>
<line x1="26.50" y1="271.80" x2="251.50" y2="271.80" stroke="#ececec" stroke-width="0.9"/>
<line x1="26.50" y1="246.65" x2="251.50" y2="246.65" stroke="#ececec" stroke-width="0.9"/>
<line x1="26.50" y1="221.50" x2="251.50" y2="221.50" stroke="#ececec" stroke-width="0.9"/>
<polygon points="64.00,273.31 82.75,274.31 101.50,276.93 120.25,280.66 139.00,287.09 157.75,293.67 176.50,296.00 195.25,297.86 214.00,306.39 232.75,314.93 232.75,337.57 214.00,328.51 195.25,319.43 176.50,317.01 157.75,314.06 139.00,306.81 120.25,299.66 101.50,295.08 82.75,291.42 64.00,288.40" fill="#1f77b4" fill-opacity="0.1"/>
<polygon points="64.00,270.17 82.75,266.14 101.50,272.49 120.25,269.97 139.00,274.03 157.75,277.35 176.50,284.09 195.25,291.59 214.00,290.56 232.75,300.22 232.75,324.11 214.00,313.66 195.25,313.88 176.50,305.54 157.75,297.94 139.00,293.72 120.25,288.72 101.50,290.22 82.75,282.74 64.00,285.26" fill="#ff7f0e" fill-opacity="0.1"/>
<polygon points="64.00,257.34 82.75,259.34 101.50,261.71 120.25,264.21 139.00,266.59 157.75,267.08 176.50,267.82 195.25,274.59 214.00,274.45 232.75,277.71 232.75,291.54 214.00,288.01 195.25,287.87 176.50,280.81 157.75,279.79 139.00,279.02 120.25,276.37 101.50,273.59 82.75,270.93 64.00,268.66" fill="#2ca02c" fill-opacity="0.1"/>
<polygon points="64.00,255.20 82.75,258.33 101.50,260.20 120.25,260.57 139.00,261.43 157.75,263.30 176.50,265.30 195.25,265.79 214.00,267.04 232.75,271.80 232.75,286.89 214.00,281.85 195.25,280.32 176.50,279.55 157.75,277.28 139.00,275.13 120.25,273.98 101.50,273.34 82.75,271.19 64.00,267.78" fill="#d62728" fill-opacity="0.1"/>
<polygon points="64.00,258.85 82.75,261.22 101.50,264.23 120.25,266.10 139.00,266.59 157.75,267.45 176.50,267.31 195.25,265.79 214.00,264.65 232.75,268.40 232.75,283.49 214.00,279.46 195.25,280.32 176.50,281.57 157.75,281.43 139.00,280.28 120.25,279.51 101.50,277.36 82.75,274.08 64.00,271.42" fill="#9467bd" fill-opacity="0.1"/>
<polyline points="64.00,280.85 82.75,282.87 101.50,286.01 120.25,290.16 139.00,296.95 157.75,303.87 176.50,306.51 195.25,308.64 214.00,317.45 232.75,326.25" fill="none" stroke="#1f77b4" stroke-width="1.2" stroke-linejoin="round"/>
<circle cx="64.00" cy="280.85" r="1.55" fill="#1f77b4"/>
<circle cx="82.75" cy="282.87" r="1.55" fill="#1f77b4"/>
<circle cx="101.50" cy="286.01" r="1.55" fill="#1f77b4"/>
<circle cx="120.25" cy="290.16" r="1.55" fill="#1f77b4"/>
<circle cx="139.00" cy="296.95" r="1.55" fill="#1f77b4"/>
<circle cx="157.75" cy="303.87" r="1.55" fill="#1f77b4"/>
<circle cx="176.50" cy="306.51" r="1.55" fill="#1f77b4"/>
<circle cx="195.25" cy="308.64" r="1.55" fill="#1f77b4"/>
<circle cx="214.00" cy="317.45" r="1.55" fill="#1f77b4"/>
<circle cx="232.75" cy="326.25" r="1.55" fill="#1f77b4"/>
<polyline points="64.00,277.71 82.75,274.44 101.50,281.36 120.25,279.35 139.00,283.87 157.75,287.64 176.50,294.81 195.25,302.73 214.00,302.11 232.75,312.17" fill="none" stroke="#ff7f0e" stroke-width="1.2" stroke-linejoin="round"/>
<rect x="62.60" y="276.31" width="2.8" height="2.8" fill="#ff7f0e"/>
<rect x="81.35" y="273.04" width="2.8" height="2.8" fill="#ff7f0e"/>
<rect x="100.10" y="279.96" width="2.8" height="2.8" fill="#ff7f0e"/>
<rect x="118.85" y="277.95" width="2.8" height="2.8" fill="#ff7f0e"/>
<rect x="137.60" y="282.47" width="2.8" height="2.8" fill="#ff7f0e"/>
<rect x="156.35" y="286.24" width="2.8" height="2.8" fill="#ff7f0e"/>
<rect x="175.10" y="293.41" width="2.8" height="2.8" fill="#ff7f0e"/>
<rect x="193.85" y="301.33" width="2.8" height="2.8" fill="#ff7f0e"/>
<rect x="212.60" y="300.71" width="2.8" height="2.8" fill="#ff7f0e"/>
<rect x="231.35" y="310.77" width="2.8" height="2.8" fill="#ff7f0e"/>
<polyline points="64.00,263.00 82.75,265.14 101.50,267.65 120.25,270.29 139.00,272.81 157.75,273.43 176.50,274.31 195.25,281.23 214.00,281.23 232.75,284.63" fill="none" stroke="#2ca02c" stroke-width="1.2" stroke-linejoin="round"/>
<polygon points="64.00,261.29 65.60,264.17 62.40,264.17" fill="#2ca02c"/>
<polygon points="82.75,263.42 84.35,266.30 81.15,266.30" fill="#2ca02c"/>
<polygon points="101.50,265.94 103.10,268.82 99.90,268.82" fill="#2ca02c"/>
<polygon points="120.25,268.58 121.85,271.46 118.65,271.46" fill="#2ca02c"/>
<polygon points="139.00,271.09 140.60,273.97 137.40,273.97" fill="#2ca02c"/>
<polygon points="157.75,271.72 159.35,274.60 156.15,274.60" fill="#2ca02c"/>
<polygon points="176.50,272.60 178.10,275.48 174.90,275.48" fill="#2ca02c"/>
<polygon points="195.25,279.52 196.85,282.40 193.65,282.40" fill="#2ca02c"/>
<polygon points="214.00,279.52 215.60,282.40 212.40,282.40" fill="#2ca02c"/>
<polygon points="232.75,282.91 234.35,285.79 231.15,285.79" fill="#2ca02c"/>
<polyline points="64.00,261.49 82.75,264.76 101.50,266.77 120.25,267.27 139.00,268.28 157.75,270.29 176.50,272.43 195.25,273.06 214.00,274.44 232.75,279.35" fill="none" stroke="#d62728" stroke-width="1.2" stroke-linejoin="round"/>
<circle cx="64.00" cy="261.49" r="1.0" fill="#d62728"/>
<circle cx="82.75" cy="264.76" r="1.0" fill="#d62728"/>
<circle cx="101.50" cy="266.77" r="1.0" fill="#d62728"/>
<circle cx="120.25" cy="267.27" r="1.0" fill="#d62728"/>
<circle cx="139.00" cy="268.28" r="1.0" fill="#d62728"/>
<circle cx="157.75" cy="270.29" r="1.0" fill="#d62728"/>
<circle cx="176.50" cy="272.43" r="1.0" fill="#d62728"/>
<circle cx="195.25" cy="273.06" r="1.0" fill="#d62728"/>
<circle cx="214.00" cy="274.44" r="1.0" fill="#d62728"/>
<circle cx="232.75" cy="279.35" r="1.0" fill="#d62728"/>
<polyline points="64.00,265.14 82.75,267.65 101.50,270.79 120.25,272.81 139.00,273.43 157.75,274.44 176.50,274.44 195.25,273.06 214.00,272.05 232.75,275.95" fill="none" stroke="#9467bd" stroke-width="1.2" stroke-linejoin="round"/>
<polygon points="64.00,263.24 65.61,265.14 64.00,267.04 62.38,265.14" fill="#9467bd"/>
<polygon points="82.75,265.75 84.36,267.65 82.75,269.55 81.14,267.65" fill="#9467bd"/>
<polygon points="101.50,268.89 103.11,270.79 101.50,272.69 99.89,270.79" fill="#9467bd"/>
<polygon points="120.25,270.91 121.86,272.81 120.25,274.71 118.64,272.81" fill="#9467bd"/>
<polygon points="139.00,271.53 140.62,273.43 139.00,275.33 137.38,273.43" fill="#9467bd"/>
<polygon points="157.75,272.54 159.37,274.44 157.75,276.34 156.13,274.44" fill="#9467bd"/>
<polygon points="176.50,272.54 178.12,274.44 176.50,276.34 174.88,274.44" fill="#9467bd"/>
<polygon points="195.25,271.16 196.87,273.06 195.25,274.96 193.63,273.06" fill="#9467bd"/>
<polygon points="214.00,270.15 215.62,272.05 214.00,273.95 212.38,272.05" fill="#9467bd"/>
<polygon points="232.75,274.05 234.37,275.95 232.75,277.85 231.13,275.95" fill="#9467bd"/>
<rect x="26.50" y="215.21" width="225.00" height="138.33" fill="none" stroke="#a6a6a6" stroke-width="0.9"/>
<line x1="45.25" y1="353.54" x2="45.25" y2="355.14" stroke="#bdbdbd" stroke-width="0.8"/>
<text x="43.29" y="360.74" font-family="Liberation Sans, sans-serif" font-size="6.99" stroke="#262626" stroke-width="0.1" fill="#262626" textLength="3.90" lengthAdjust="spacingAndGlyphs">0</text>
<line x1="82.75" y1="353.54" x2="82.75" y2="355.14" stroke="#bdbdbd" stroke-width="0.8"/>
<text x="80.80" y="360.74" font-family="Liberation Sans, sans-serif" font-size="6.99" stroke="#262626" stroke-width="0.1" fill="#262626" textLength="3.71" lengthAdjust="spacingAndGlyphs">1</text>
<line x1="120.25" y1="353.54" x2="120.25" y2="355.14" stroke="#bdbdbd" stroke-width="0.8"/>
<text x="118.38" y="360.74" font-family="Liberation Sans, sans-serif" font-size="6.99" stroke="#262626" stroke-width="0.1" fill="#262626" textLength="3.75" lengthAdjust="spacingAndGlyphs">2</text>
<line x1="157.75" y1="353.54" x2="157.75" y2="355.14" stroke="#bdbdbd" stroke-width="0.8"/>
<text x="155.88" y="360.74" font-family="Liberation Sans, sans-serif" font-size="6.99" stroke="#262626" stroke-width="0.1" fill="#262626" textLength="3.75" lengthAdjust="spacingAndGlyphs">3</text>
<line x1="195.25" y1="353.54" x2="195.25" y2="355.14" stroke="#bdbdbd" stroke-width="0.8"/>
<text x="193.34" y="360.74" font-family="Liberation Sans, sans-serif" font-size="6.99" stroke="#262626" stroke-width="0.1" fill="#262626" textLength="3.89" lengthAdjust="spacingAndGlyphs">4</text>
<line x1="232.75" y1="353.54" x2="232.75" y2="355.14" stroke="#bdbdbd" stroke-width="0.8"/>
<text x="230.90" y="360.74" font-family="Liberation Sans, sans-serif" font-size="6.99" stroke="#262626" stroke-width="0.1" fill="#262626" textLength="3.71" lengthAdjust="spacingAndGlyphs">5</text>
<line x1="24.90" y1="347.25" x2="26.50" y2="347.25" stroke="#bdbdbd" stroke-width="0.8"/>
<text x="14.57" y="350.05" font-family="Liberation Sans, sans-serif" font-size="6.99" stroke="#262626" stroke-width="0.1" fill="#262626" textLength="10.29" lengthAdjust="spacingAndGlyphs">0.0</text>
<line x1="24.90" y1="322.10" x2="26.50" y2="322.10" stroke="#bdbdbd" stroke-width="0.8"/>
<text x="14.80" y="324.90" font-family="Liberation Sans, sans-serif" font-size="6.99" stroke="#262626" stroke-width="0.1" fill="#262626" textLength="10.16" lengthAdjust="spacingAndGlyphs">0.2</text>
<line x1="24.90" y1="296.95" x2="26.50" y2="296.95" stroke="#bdbdbd" stroke-width="0.8"/>
<text x="14.50" y="299.75" font-family="Liberation Sans, sans-serif" font-size="6.99" stroke="#262626" stroke-width="0.1" fill="#262626" textLength="10.33" lengthAdjust="spacingAndGlyphs">0.4</text>
<line x1="24.90" y1="271.80" x2="26.50" y2="271.80" stroke="#bdbdbd" stroke-width="0.8"/>
<text x="14.53" y="274.60" font-family="Liberation Sans, sans-serif" font-size="6.99" stroke="#262626" stroke-width="0.1" fill="#262626" textLength="10.37" lengthAdjust="spacingAndGlyphs">0.6</text>
<line x1="24.90" y1="246.65" x2="26.50" y2="246.65" stroke="#bdbdbd" stroke-width="0.8"/>
<text x="14.56" y="249.45" font-family="Liberation Sans, sans-serif" font-size="6.99" stroke="#262626" stroke-width="0.1" fill="#262626" textLength="10.33" lengthAdjust="spacingAndGlyphs">0.8</text>
<line x1="24.90" y1="221.50" x2="26.50" y2="221.50" stroke="#bdbdbd" stroke-width="0.8"/>
<text x="14.61" y="224.30" font-family="Liberation Sans, sans-serif" font-size="6.99" stroke="#262626" stroke-width="0.1" fill="#262626" textLength="10.25" lengthAdjust="spacingAndGlyphs">1.0</text>
<text x="109.81" y="368.24" font-family="Liberation Sans, sans-serif" font-size="6.99" stroke="#262626" stroke-width="0.1" fill="#262626" textLength="58.24" lengthAdjust="spacingAndGlyphs">Lead Time (Days)</text>
<text transform="translate(11.70,283.38) rotate(-90)" x="-37.45" y="0" font-family="Liberation Sans, sans-serif" font-size="6.99" stroke="#262626" stroke-width="0.1" fill="#262626" textLength="74.56" lengthAdjust="spacingAndGlyphs">Correlation Coefficient</text>
<text x="127.10" y="204.65" font-family="Liberation Sans, sans-serif" font-size="8.33" stroke="#262626" stroke-width="0.1" fill="#262626" textLength="23.68" lengthAdjust="spacingAndGlyphs">Miami</text>
<text x="12.51" y="205.31" font-family="Liberation Sans, sans-serif" font-size="6.92" font-weight="bold" stroke="#000" stroke-width="0.1" fill="#000" textLength="9.57" lengthAdjust="spacingAndGlyphs">(c)</text>
<line x1="285.75" y1="215.21" x2="285.75" y2="353.54" stroke="#f8f8f8" stroke-width="0.7"/>
<line x1="293.24" y1="215.21" x2="293.24" y2="353.54" stroke="#f8f8f8" stroke-width="0.7"/>
<line x1="308.22" y1="215.21" x2="308.22" y2="353.54" stroke="#f8f8f8" stroke-width="0.7"/>
<line x1="315.71" y1="215.21" x2="315.71" y2="353.54" stroke="#f8f8f8" stroke-width="0.7"/>
<line x1="323.20" y1="215.21" x2="323.20" y2="353.54" stroke="#f8f8f8" stroke-width="0.7"/>
<line x1="330.70" y1="215.21" x2="330.70" y2="353.54" stroke="#f8f8f8" stroke-width="0.7"/>
<line x1="345.68" y1="215.21" x2="345.68" y2="353.54" stroke="#f8f8f8" stroke-width="0.7"/>
<line x1="353.17" y1="215.21" x2="353.17" y2="353.54" stroke="#f8f8f8" stroke-width="0.7"/>
<line x1="360.66" y1="215.21" x2="360.66" y2="353.54" stroke="#f8f8f8" stroke-width="0.7"/>
<line x1="368.15" y1="215.21" x2="368.15" y2="353.54" stroke="#f8f8f8" stroke-width="0.7"/>
<line x1="383.14" y1="215.21" x2="383.14" y2="353.54" stroke="#f8f8f8" stroke-width="0.7"/>
<line x1="390.63" y1="215.21" x2="390.63" y2="353.54" stroke="#f8f8f8" stroke-width="0.7"/>
<line x1="398.12" y1="215.21" x2="398.12" y2="353.54" stroke="#f8f8f8" stroke-width="0.7"/>
<line x1="405.61" y1="215.21" x2="405.61" y2="353.54" stroke="#f8f8f8" stroke-width="0.7"/>
<line x1="420.60" y1="215.21" x2="420.60" y2="353.54" stroke="#f8f8f8" stroke-width="0.7"/>
<line x1="428.09" y1="215.21" x2="428.09" y2="353.54" stroke="#f8f8f8" stroke-width="0.7"/>
<line x1="435.58" y1="215.21" x2="435.58" y2="353.54" stroke="#f8f8f8" stroke-width="0.7"/>
<line x1="443.07" y1="215.21" x2="443.07" y2="353.54" stroke="#f8f8f8" stroke-width="0.7"/>
<line x1="458.05" y1="215.21" x2="458.05" y2="353.54" stroke="#f8f8f8" stroke-width="0.7"/>
<line x1="465.55" y1="215.21" x2="465.55" y2="353.54" stroke="#f8f8f8" stroke-width="0.7"/>
<line x1="473.04" y1="215.21" x2="473.04" y2="353.54" stroke="#f8f8f8" stroke-width="0.7"/>
<line x1="480.53" y1="215.21" x2="480.53" y2="353.54" stroke="#f8f8f8" stroke-width="0.7"/>
<line x1="495.51" y1="215.21" x2="495.51" y2="353.54" stroke="#f8f8f8" stroke-width="0.7"/>
<line x1="503.00" y1="215.21" x2="503.00" y2="353.54" stroke="#f8f8f8" stroke-width="0.7"/>
<line x1="282.00" y1="340.96" x2="506.75" y2="340.96" stroke="#f8f8f8" stroke-width="0.7"/>
<line x1="282.00" y1="334.68" x2="506.75" y2="334.68" stroke="#f8f8f8" stroke-width="0.7"/>
<line x1="282.00" y1="328.39" x2="506.75" y2="328.39" stroke="#f8f8f8" stroke-width="0.7"/>
<line x1="282.00" y1="315.81" x2="506.75" y2="315.81" stroke="#f8f8f8" stroke-width="0.7"/>
<line x1="282.00" y1="309.52" x2="506.75" y2="309.52" stroke="#f8f8f8" stroke-width="0.7"/>
<line x1="282.00" y1="303.24" x2="506.75" y2="303.24" stroke="#f8f8f8" stroke-width="0.7"/>
<line x1="282.00" y1="290.66" x2="506.75" y2="290.66" stroke="#f8f8f8" stroke-width="0.7"/>
<line x1="282.00" y1="284.38" x2="506.75" y2="284.38" stroke="#f8f8f8" stroke-width="0.7"/>
<line x1="282.00" y1="278.09" x2="506.75" y2="278.09" stroke="#f8f8f8" stroke-width="0.7"/>
<line x1="282.00" y1="265.51" x2="506.75" y2="265.51" stroke="#f8f8f8" stroke-width="0.7"/>
<line x1="282.00" y1="259.23" x2="506.75" y2="259.23" stroke="#f8f8f8" stroke-width="0.7"/>
<line x1="282.00" y1="252.94" x2="506.75" y2="252.94" stroke="#f8f8f8" stroke-width="0.7"/>
<line x1="282.00" y1="240.36" x2="506.75" y2="240.36" stroke="#f8f8f8" stroke-width="0.7"/>
<line x1="282.00" y1="234.07" x2="506.75" y2="234.07" stroke="#f8f8f8" stroke-width="0.7"/>
<line x1="282.00" y1="227.79" x2="506.75" y2="227.79" stroke="#f8f8f8" stroke-width="0.7"/>
<line x1="300.73" y1="215.21" x2="300.73" y2="353.54" stroke="#ececec" stroke-width="0.9"/>
<line x1="338.19" y1="215.21" x2="338.19" y2="353.54" stroke="#ececec" stroke-width="0.9"/>
<line x1="375.65" y1="215.21" x2="375.65" y2="353.54" stroke="#ececec" stroke-width="0.9"/>
<line x1="413.10" y1="215.21" x2="413.10" y2="353.54" stroke="#ececec" stroke-width="0.9"/>
<line x1="450.56" y1="215.21" x2="450.56" y2="353.54" stroke="#ececec" stroke-width="0.9"/>
<line x1="488.02" y1="215.21" x2="488.02" y2="353.54" stroke="#ececec" stroke-width="0.9"/>
<line x1="282.00" y1="347.25" x2="506.75" y2="347.25" stroke="#ececec" stroke-width="0.9"/>
<line x1="282.00" y1="322.10" x2="506.75" y2="322.10" stroke="#ececec" stroke-width="0.9"/>
<line x1="282.00" y1="296.95" x2="506.75" y2="296.95" stroke="#ececec" stroke-width="0.9"/>
<line x1="282.00" y1="271.80" x2="506.75" y2="271.80" stroke="#ececec" stroke-width="0.9"/>
<line x1="282.00" y1="246.65" x2="506.75" y2="246.65" stroke="#ececec" stroke-width="0.9"/>
<line x1="282.00" y1="221.50" x2="506.75" y2="221.50" stroke="#ececec" stroke-width="0.9"/>
<polygon points="319.46,273.31 338.19,278.93 356.92,283.90 375.65,289.48 394.38,286.30 413.10,284.04 431.83,291.99 450.56,294.18 469.29,291.60 488.02,293.05 488.02,314.43 469.29,312.61 450.56,314.81 431.83,312.22 413.10,303.82 394.38,305.58 375.65,308.20 356.92,301.95 338.19,296.11 319.46,288.40" fill="#1f77b4" fill-opacity="0.1"/>
<polygon points="319.46,252.94 338.19,256.25 356.92,257.07 375.65,262.38 394.38,264.84 413.10,261.42 431.83,269.34 450.56,282.30 469.29,281.45 488.02,284.50 488.02,303.36 469.29,299.88 450.56,300.28 431.83,286.84 413.10,278.41 394.38,281.28 375.65,278.20 356.92,272.19 338.19,270.50 319.46,265.51" fill="#ff7f0e" fill-opacity="0.1"/>
<polygon points="319.46,250.05 338.19,250.24 356.92,252.07 375.65,254.40 394.38,253.47 413.10,253.54 431.83,254.99 450.56,266.38 469.29,274.25 488.02,281.99 488.02,298.33 469.29,289.47 450.56,280.49 431.83,267.99 413.10,265.41 394.38,264.23 375.65,264.05 356.92,260.59 338.19,257.65 319.46,256.33" fill="#2ca02c" fill-opacity="0.1"/>
<polygon points="319.46,252.94 338.19,253.47 356.92,253.75 375.65,254.03 394.38,254.43 413.10,254.21 431.83,255.87 450.56,267.59 469.29,273.16 488.02,283.24 488.02,298.33 469.29,287.55 450.56,281.29 431.83,268.87 413.10,266.50 394.38,266.03 375.65,264.93 356.92,263.95 338.19,262.97 319.46,261.74" fill="#d62728" fill-opacity="0.1"/>
<polygon points="319.46,259.35 338.19,260.22 356.92,260.71 375.65,260.57 394.38,260.43 413.10,258.53 431.83,263.67 450.56,273.59 469.29,277.22 488.02,286.89 488.02,301.98 469.29,292.03 450.56,288.12 431.83,277.92 413.10,272.50 394.38,274.12 375.65,273.98 356.92,273.84 338.19,273.07 319.46,271.93" fill="#9467bd" fill-opacity="0.1"/>
<polyline points="319.46,280.85 338.19,287.52 356.92,292.93 375.65,298.84 394.38,295.94 413.10,293.93 431.83,302.11 450.56,304.50 469.29,302.11 488.02,303.74" fill="none" stroke="#1f77b4" stroke-width="1.2" stroke-linejoin="round"/>
<circle cx="319.46" cy="280.85" r="1.55" fill="#1f77b4"/>
<circle cx="338.19" cy="287.52" r="1.55" fill="#1f77b4"/>
<circle cx="356.92" cy="292.93" r="1.55" fill="#1f77b4"/>
<circle cx="375.65" cy="298.84" r="1.55" fill="#1f77b4"/>
<circle cx="394.38" cy="295.94" r="1.55" fill="#1f77b4"/>
<circle cx="413.10" cy="293.93" r="1.55" fill="#1f77b4"/>
<circle cx="431.83" cy="302.11" r="1.55" fill="#1f77b4"/>
<circle cx="450.56" cy="304.50" r="1.55" fill="#1f77b4"/>
<circle cx="469.29" cy="302.11" r="1.55" fill="#1f77b4"/>
<circle cx="488.02" cy="303.74" r="1.55" fill="#1f77b4"/>
<polyline points="319.46,259.23 338.19,263.37 356.92,264.63 375.65,270.29 394.38,273.06 413.10,269.91 431.83,278.09 450.56,291.29 469.29,290.66 488.02,293.93" fill="none" stroke="#ff7f0e" stroke-width="1.2" stroke-linejoin="round"/>
<rect x="318.06" y="257.83" width="2.8" height="2.8" fill="#ff7f0e"/>
<rect x="336.79" y="261.97" width="2.8" height="2.8" fill="#ff7f0e"/>
<rect x="355.52" y="263.23" width="2.8" height="2.8" fill="#ff7f0e"/>
<rect x="374.25" y="268.89" width="2.8" height="2.8" fill="#ff7f0e"/>
<rect x="392.98" y="271.66" width="2.8" height="2.8" fill="#ff7f0e"/>
<rect x="411.70" y="268.51" width="2.8" height="2.8" fill="#ff7f0e"/>
<rect x="430.43" y="276.69" width="2.8" height="2.8" fill="#ff7f0e"/>
<rect x="449.16" y="289.89" width="2.8" height="2.8" fill="#ff7f0e"/>
<rect x="467.89" y="289.26" width="2.8" height="2.8" fill="#ff7f0e"/>
<rect x="486.62" y="292.53" width="2.8" height="2.8" fill="#ff7f0e"/>
<polyline points="319.46,253.19 338.19,253.94 356.92,256.33 375.65,259.23 394.38,258.85 413.10,259.48 431.83,261.49 450.56,273.43 469.29,281.86 488.02,290.16" fill="none" stroke="#2ca02c" stroke-width="1.2" stroke-linejoin="round"/>
<polygon points="319.46,251.48 321.06,254.36 317.86,254.36" fill="#2ca02c"/>
<polygon points="338.19,252.23 339.79,255.11 336.59,255.11" fill="#2ca02c"/>
<polygon points="356.92,254.62 358.52,257.50 355.32,257.50" fill="#2ca02c"/>
<polygon points="375.65,257.51 377.25,260.39 374.05,260.39" fill="#2ca02c"/>
<polygon points="394.38,257.14 395.98,260.02 392.77,260.02" fill="#2ca02c"/>
<polygon points="413.10,257.76 414.70,260.64 411.50,260.64" fill="#2ca02c"/>
<polygon points="431.83,259.78 433.43,262.66 430.23,262.66" fill="#2ca02c"/>
<polygon points="450.56,271.72 452.16,274.60 448.96,274.60" fill="#2ca02c"/>
<polygon points="469.29,280.15 470.89,283.03 467.69,283.03" fill="#2ca02c"/>
<polygon points="488.02,288.45 489.62,291.33 486.42,291.33" fill="#2ca02c"/>
<polyline points="319.46,257.34 338.19,258.22 356.92,258.85 375.65,259.48 394.38,260.23 413.10,260.36 431.83,262.37 450.56,274.44 469.29,280.35 488.02,290.79" fill="none" stroke="#d62728" stroke-width="1.2" stroke-linejoin="round"/>
<circle cx="319.46" cy="257.34" r="1.0" fill="#d62728"/>
<circle cx="338.19" cy="258.22" r="1.0" fill="#d62728"/>
<circle cx="356.92" cy="258.85" r="1.0" fill="#d62728"/>
<circle cx="375.65" cy="259.48" r="1.0" fill="#d62728"/>
<circle cx="394.38" cy="260.23" r="1.0" fill="#d62728"/>
<circle cx="413.10" cy="260.36" r="1.0" fill="#d62728"/>
<circle cx="431.83" cy="262.37" r="1.0" fill="#d62728"/>
<circle cx="450.56" cy="274.44" r="1.0" fill="#d62728"/>
<circle cx="469.29" cy="280.35" r="1.0" fill="#d62728"/>
<circle cx="488.02" cy="290.79" r="1.0" fill="#d62728"/>
<polyline points="319.46,265.64 338.19,266.64 356.92,267.27 375.65,267.27 394.38,267.27 413.10,265.51 431.83,270.79 450.56,280.85 469.29,284.63 488.02,294.44" fill="none" stroke="#9467bd" stroke-width="1.2" stroke-linejoin="round"/>
<polygon points="319.46,263.74 321.07,265.64 319.46,267.54 317.84,265.64" fill="#9467bd"/>
<polygon points="338.19,264.74 339.80,266.64 338.19,268.54 336.57,266.64" fill="#9467bd"/>
<polygon points="356.92,265.37 358.53,267.27 356.92,269.17 355.30,267.27" fill="#9467bd"/>
<polygon points="375.65,265.37 377.26,267.27 375.65,269.17 374.03,267.27" fill="#9467bd"/>
<polygon points="394.38,265.37 395.99,267.27 394.38,269.17 392.76,267.27" fill="#9467bd"/>
<polygon points="413.10,263.61 414.72,265.51 413.10,267.41 411.49,265.51" fill="#9467bd"/>
<polygon points="431.83,268.89 433.45,270.79 431.83,272.69 430.22,270.79" fill="#9467bd"/>
<polygon points="450.56,278.95 452.18,280.85 450.56,282.75 448.95,280.85" fill="#9467bd"/>
<polygon points="469.29,282.73 470.91,284.63 469.29,286.53 467.68,284.63" fill="#9467bd"/>
<polygon points="488.02,292.54 489.64,294.44 488.02,296.33 486.41,294.44" fill="#9467bd"/>
<rect x="282.00" y="215.21" width="224.75" height="138.33" fill="none" stroke="#a6a6a6" stroke-width="0.9"/>
<line x1="300.73" y1="353.54" x2="300.73" y2="355.14" stroke="#bdbdbd" stroke-width="0.8"/>
<text x="298.76" y="360.74" font-family="Liberation Sans, sans-serif" font-size="6.99" stroke="#262626" stroke-width="0.1" fill="#262626" textLength="3.90" lengthAdjust="spacingAndGlyphs">0</text>
<line x1="338.19" y1="353.54" x2="338.19" y2="355.14" stroke="#bdbdbd" stroke-width="0.8"/>
<text x="336.24" y="360.74" font-family="Liberation Sans, sans-serif" font-size="6.99" stroke="#262626" stroke-width="0.1" fill="#262626" textLength="3.71" lengthAdjust="spacingAndGlyphs">1</text>
<line x1="375.65" y1="353.54" x2="375.65" y2="355.14" stroke="#bdbdbd" stroke-width="0.8"/>
<text x="373.77" y="360.74" font-family="Liberation Sans, sans-serif" font-size="6.99" stroke="#262626" stroke-width="0.1" fill="#262626" textLength="3.75" lengthAdjust="spacingAndGlyphs">2</text>
<line x1="413.10" y1="353.54" x2="413.10" y2="355.14" stroke="#bdbdbd" stroke-width="0.8"/>
<text x="411.23" y="360.74" font-family="Liberation Sans, sans-serif" font-size="6.99" stroke="#262626" stroke-width="0.1" fill="#262626" textLength="3.75" lengthAdjust="spacingAndGlyphs">3</text>
<line x1="450.56" y1="353.54" x2="450.56" y2="355.14" stroke="#bdbdbd" stroke-width="0.8"/>
<text x="448.65" y="360.74" font-family="Liberation Sans, sans-serif" font-size="6.99" stroke="#262626" stroke-width="0.1" fill="#262626" textLength="3.89" lengthAdjust="spacingAndGlyphs">4</text>
<line x1="488.02" y1="353.54" x2="488.02" y2="355.14" stroke="#bdbdbd" stroke-width="0.8"/>
<text x="486.17" y="360.74" font-family="Liberation Sans, sans-serif" font-size="6.99" stroke="#262626" stroke-width="0.1" fill="#262626" textLength="3.71" lengthAdjust="spacingAndGlyphs">5</text>
<line x1="280.40" y1="347.25" x2="282.00" y2="347.25" stroke="#bdbdbd" stroke-width="0.8"/>
<text x="270.07" y="350.05" font-family="Liberation Sans, sans-serif" font-size="6.99" stroke="#262626" stroke-width="0.1" fill="#262626" textLength="10.29" lengthAdjust="spacingAndGlyphs">0.0</text>
<line x1="280.40" y1="322.10" x2="282.00" y2="322.10" stroke="#bdbdbd" stroke-width="0.8"/>
<text x="270.30" y="324.90" font-family="Liberation Sans, sans-serif" font-size="6.99" stroke="#262626" stroke-width="0.1" fill="#262626" textLength="10.16" lengthAdjust="spacingAndGlyphs">0.2</text>
<line x1="280.40" y1="296.95" x2="282.00" y2="296.95" stroke="#bdbdbd" stroke-width="0.8"/>
<text x="270.00" y="299.75" font-family="Liberation Sans, sans-serif" font-size="6.99" stroke="#262626" stroke-width="0.1" fill="#262626" textLength="10.33" lengthAdjust="spacingAndGlyphs">0.4</text>
<line x1="280.40" y1="271.80" x2="282.00" y2="271.80" stroke="#bdbdbd" stroke-width="0.8"/>
<text x="270.03" y="274.60" font-family="Liberation Sans, sans-serif" font-size="6.99" stroke="#262626" stroke-width="0.1" fill="#262626" textLength="10.37" lengthAdjust="spacingAndGlyphs">0.6</text>
<line x1="280.40" y1="246.65" x2="282.00" y2="246.65" stroke="#bdbdbd" stroke-width="0.8"/>
<text x="270.06" y="249.45" font-family="Liberation Sans, sans-serif" font-size="6.99" stroke="#262626" stroke-width="0.1" fill="#262626" textLength="10.33" lengthAdjust="spacingAndGlyphs">0.8</text>
<line x1="280.40" y1="221.50" x2="282.00" y2="221.50" stroke="#bdbdbd" stroke-width="0.8"/>
<text x="270.11" y="224.30" font-family="Liberation Sans, sans-serif" font-size="6.99" stroke="#262626" stroke-width="0.1" fill="#262626" textLength="10.25" lengthAdjust="spacingAndGlyphs">1.0</text>
<text x="365.19" y="368.24" font-family="Liberation Sans, sans-serif" font-size="6.99" stroke="#262626" stroke-width="0.1" fill="#262626" textLength="58.24" lengthAdjust="spacingAndGlyphs">Lead Time (Days)</text>
<text transform="translate(267.20,283.38) rotate(-90)" x="-37.45" y="0" font-family="Liberation Sans, sans-serif" font-size="6.99" stroke="#262626" stroke-width="0.1" fill="#262626" textLength="74.56" lengthAdjust="spacingAndGlyphs">Correlation Coefficient</text>
<text x="374.35" y="204.65" font-family="Liberation Sans, sans-serif" font-size="8.33" stroke="#262626" stroke-width="0.1" fill="#262626" textLength="39.69" lengthAdjust="spacingAndGlyphs">Oklahoma</text>
<text x="267.99" y="205.31" font-family="Liberation Sans, sans-serif" font-size="6.92" font-weight="bold" stroke="#000" stroke-width="0.1" fill="#000" textLength="10.43" lengthAdjust="spacingAndGlyphs">(d)</text>
<line x1="30.25" y1="389.96" x2="30.25" y2="528.29" stroke="#f8f8f8" stroke-width="0.7"/>
<line x1="37.75" y1="389.96" x2="37.75" y2="528.29" stroke="#f8f8f8" stroke-width="0.7"/>
<line x1="52.75" y1="389.96" x2="52.75" y2="528.29" stroke="#f8f8f8" stroke-width="0.7"/>
<line x1="60.25" y1="389.96" x2="60.25" y2="528.29" stroke="#f8f8f8" stroke-width="0.7"/>
<line x1="67.75" y1="389.96" x2="67.75" y2="528.29" stroke="#f8f8f8" stroke-width="0.7"/>
<line x1="75.25" y1="389.96" x2="75.25" y2="528.29" stroke="#f8f8f8" stroke-width="0.7"/>
<line x1="90.25" y1="389.96" x2="90.25" y2="528.29" stroke="#f8f8f8" stroke-width="0.7"/>
<line x1="97.75" y1="389.96" x2="97.75" y2="528.29" stroke="#f8f8f8" stroke-width="0.7"/>
<line x1="105.25" y1="389.96" x2="105.25" y2="528.29" stroke="#f8f8f8" stroke-width="0.7"/>
<line x1="112.75" y1="389.96" x2="112.75" y2="528.29" stroke="#f8f8f8" stroke-width="0.7"/>
<line x1="127.75" y1="389.96" x2="127.75" y2="528.29" stroke="#f8f8f8" stroke-width="0.7"/>
<line x1="135.25" y1="389.96" x2="135.25" y2="528.29" stroke="#f8f8f8" stroke-width="0.7"/>
<line x1="142.75" y1="389.96" x2="142.75" y2="528.29" stroke="#f8f8f8" stroke-width="0.7"/>
<line x1="150.25" y1="389.96" x2="150.25" y2="528.29" stroke="#f8f8f8" stroke-width="0.7"/>
<line x1="165.25" y1="389.96" x2="165.25" y2="528.29" stroke="#f8f8f8" stroke-width="0.7"/>
<line x1="172.75" y1="389.96" x2="172.75" y2="528.29" stroke="#f8f8f8" stroke-width="0.7"/>
<line x1="180.25" y1="389.96" x2="180.25" y2="528.29" stroke="#f8f8f8" stroke-width="0.7"/>
<line x1="187.75" y1="389.96" x2="187.75" y2="528.29" stroke="#f8f8f8" stroke-width="0.7"/>
<line x1="202.75" y1="389.96" x2="202.75" y2="528.29" stroke="#f8f8f8" stroke-width="0.7"/>
<line x1="210.25" y1="389.96" x2="210.25" y2="528.29" stroke="#f8f8f8" stroke-width="0.7"/>
<line x1="217.75" y1="389.96" x2="217.75" y2="528.29" stroke="#f8f8f8" stroke-width="0.7"/>
<line x1="225.25" y1="389.96" x2="225.25" y2="528.29" stroke="#f8f8f8" stroke-width="0.7"/>
<line x1="240.25" y1="389.96" x2="240.25" y2="528.29" stroke="#f8f8f8" stroke-width="0.7"/>
<line x1="247.75" y1="389.96" x2="247.75" y2="528.29" stroke="#f8f8f8" stroke-width="0.7"/>
<line x1="26.50" y1="515.71" x2="251.50" y2="515.71" stroke="#f8f8f8" stroke-width="0.7"/>
<line x1="26.50" y1="509.43" x2="251.50" y2="509.43" stroke="#f8f8f8" stroke-width="0.7"/>
<line x1="26.50" y1="503.14" x2="251.50" y2="503.14" stroke="#f8f8f8" stroke-width="0.7"/>
<line x1="26.50" y1="490.56" x2="251.50" y2="490.56" stroke="#f8f8f8" stroke-width="0.7"/>
<line x1="26.50" y1="484.27" x2="251.50" y2="484.27" stroke="#f8f8f8" stroke-width="0.7"/>
<line x1="26.50" y1="477.99" x2="251.50" y2="477.99" stroke="#f8f8f8" stroke-width="0.7"/>
<line x1="26.50" y1="465.41" x2="251.50" y2="465.41" stroke="#f8f8f8" stroke-width="0.7"/>
<line x1="26.50" y1="459.12" x2="251.50" y2="459.12" stroke="#f8f8f8" stroke-width="0.7"/>
<line x1="26.50" y1="452.84" x2="251.50" y2="452.84" stroke="#f8f8f8" stroke-width="0.7"/>
<line x1="26.50" y1="440.26" x2="251.50" y2="440.26" stroke="#f8f8f8" stroke-width="0.7"/>
<line x1="26.50" y1="433.98" x2="251.50" y2="433.98" stroke="#f8f8f8" stroke-width="0.7"/>
<line x1="26.50" y1="427.69" x2="251.50" y2="427.69" stroke="#f8f8f8" stroke-width="0.7"/>
<line x1="26.50" y1="415.11" x2="251.50" y2="415.11" stroke="#f8f8f8" stroke-width="0.7"/>
<line x1="26.50" y1="408.82" x2="251.50" y2="408.82" stroke="#f8f8f8" stroke-width="0.7"/>
<line x1="26.50" y1="402.54" x2="251.50" y2="402.54" stroke="#f8f8f8" stroke-width="0.7"/>
<line x1="45.25" y1="389.96" x2="45.25" y2="528.29" stroke="#ececec" stroke-width="0.9"/>
<line x1="82.75" y1="389.96" x2="82.75" y2="528.29" stroke="#ececec" stroke-width="0.9"/>
<line x1="120.25" y1="389.96" x2="120.25" y2="528.29" stroke="#ececec" stroke-width="0.9"/>
<line x1="157.75" y1="389.96" x2="157.75" y2="528.29" stroke="#ececec" stroke-width="0.9"/>
<line x1="195.25" y1="389.96" x2="195.25" y2="528.29" stroke="#ececec" stroke-width="0.9"/>
<line x1="232.75" y1="389.96" x2="232.75" y2="528.29" stroke="#ececec" stroke-width="0.9"/>
<line x1="26.50" y1="522.00" x2="251.50" y2="522.00" stroke="#ececec" stroke-width="0.9"/>
<line x1="26.50" y1="496.85" x2="251.50" y2="496.85" stroke="#ececec" stroke-width="0.9"/>
<line x1="26.50" y1="471.70" x2="251.50" y2="471.70" stroke="#ececec" stroke-width="0.9"/>
<line x1="26.50" y1="446.55" x2="251.50" y2="446.55" stroke="#ececec" stroke-width="0.9"/>
<line x1="26.50" y1="421.40" x2="251.50" y2="421.40" stroke="#ececec" stroke-width="0.9"/>
<line x1="26.50" y1="396.25" x2="251.50" y2="396.25" stroke="#ececec" stroke-width="0.9"/>
<polygon points="64.00,440.26 82.75,449.99 101.50,448.39 120.25,446.05 139.00,452.12 157.75,457.95 176.50,453.59 195.25,455.02 214.00,455.18 232.75,463.02 232.75,481.89 214.00,473.63 195.25,473.04 176.50,471.20 157.75,475.14 139.00,468.89 120.25,462.39 101.50,464.32 82.75,465.50 64.00,455.35" fill="#1f77b4" fill-opacity="0.1"/>
<polygon points="64.00,419.64 82.75,427.65 101.50,427.23 120.25,423.66 139.00,427.39 157.75,434.27 176.50,441.65 195.25,440.72 214.00,439.30 232.75,445.67 232.75,464.53 214.00,457.32 195.25,457.91 176.50,457.99 157.75,449.78 139.00,442.06 120.25,437.50 101.50,440.22 82.75,439.80 64.00,430.96" fill="#ff7f0e" fill-opacity="0.1"/>
<polygon points="64.00,409.08 82.75,416.23 101.50,417.47 120.25,415.32 139.00,415.81 157.75,420.83 176.50,427.48 195.25,429.98 214.00,427.83 232.75,431.21 232.75,442.53 214.00,438.87 195.25,440.74 176.50,437.96 157.75,431.03 139.00,425.73 120.25,424.96 101.50,426.84 82.75,425.31 64.00,417.88" fill="#2ca02c" fill-opacity="0.1"/>
<polygon points="64.00,404.17 82.75,409.10 101.50,410.39 120.25,409.66 139.00,412.46 157.75,417.77 176.50,425.59 195.25,428.13 214.00,426.78 232.75,430.58 232.75,444.41 214.00,439.91 195.25,440.57 176.50,437.33 157.75,428.81 139.00,422.80 120.25,419.30 101.50,419.33 82.75,417.35 64.00,411.72" fill="#d62728" fill-opacity="0.1"/>
<polygon points="64.00,402.79 82.75,406.14 101.50,407.36 120.25,407.94 139.00,412.18 157.75,416.29 176.50,422.15 195.25,424.88 214.00,427.48 232.75,432.09 232.75,445.92 214.00,440.47 195.25,437.03 176.50,433.47 157.75,426.77 139.00,421.82 120.25,416.75 101.50,415.32 82.75,413.27 64.00,409.08" fill="#9467bd" fill-opacity="0.1"/>
<polyline points="64.00,447.81 82.75,457.74 101.50,456.36 120.25,454.22 139.00,460.51 157.75,466.54 176.50,462.39 195.25,464.03 214.00,464.41 232.75,472.45" fill="none" stroke="#1f77b4" stroke-width="1.2" stroke-linejoin="round"/>
<circle cx="64.00" cy="447.81" r="1.55" fill="#1f77b4"/>
<circle cx="82.75" cy="457.74" r="1.55" fill="#1f77b4"/>
<circle cx="101.50" cy="456.36" r="1.55" fill="#1f77b4"/>
<circle cx="120.25" cy="454.22" r="1.55" fill="#1f77b4"/>
<circle cx="139.00" cy="460.51" r="1.55" fill="#1f77b4"/>
<circle cx="157.75" cy="466.54" r="1.55" fill="#1f77b4"/>
<circle cx="176.50" cy="462.39" r="1.55" fill="#1f77b4"/>
<circle cx="195.25" cy="464.03" r="1.55" fill="#1f77b4"/>
<circle cx="214.00" cy="464.41" r="1.55" fill="#1f77b4"/>
<circle cx="232.75" cy="472.45" r="1.55" fill="#1f77b4"/>
<polyline points="64.00,425.30 82.75,433.72 101.50,433.72 120.25,430.58 139.00,434.73 157.75,442.02 176.50,449.82 195.25,449.32 214.00,448.31 232.75,455.10" fill="none" stroke="#ff7f0e" stroke-width="1.2" stroke-linejoin="round"/>
<rect x="62.60" y="423.90" width="2.8" height="2.8" fill="#ff7f0e"/>
<rect x="81.35" y="432.32" width="2.8" height="2.8" fill="#ff7f0e"/>
<rect x="100.10" y="432.32" width="2.8" height="2.8" fill="#ff7f0e"/>
<rect x="118.85" y="429.18" width="2.8" height="2.8" fill="#ff7f0e"/>
<rect x="137.60" y="433.33" width="2.8" height="2.8" fill="#ff7f0e"/>
<rect x="156.35" y="440.62" width="2.8" height="2.8" fill="#ff7f0e"/>
<rect x="175.10" y="448.42" width="2.8" height="2.8" fill="#ff7f0e"/>
<rect x="193.85" y="447.92" width="2.8" height="2.8" fill="#ff7f0e"/>
<rect x="212.60" y="446.91" width="2.8" height="2.8" fill="#ff7f0e"/>
<rect x="231.35" y="453.70" width="2.8" height="2.8" fill="#ff7f0e"/>
<polyline points="64.00,413.48 82.75,420.77 101.50,422.15 120.25,420.14 139.00,420.77 157.75,425.93 176.50,432.72 195.25,435.36 214.00,433.35 232.75,436.87" fill="none" stroke="#2ca02c" stroke-width="1.2" stroke-linejoin="round"/>
<polygon points="64.00,411.77 65.60,414.65 62.40,414.65" fill="#2ca02c"/>
<polygon points="82.75,419.06 84.35,421.94 81.15,421.94" fill="#2ca02c"/>
<polygon points="101.50,420.44 103.10,423.32 99.90,423.32" fill="#2ca02c"/>
<polygon points="120.25,418.43 121.85,421.31 118.65,421.31" fill="#2ca02c"/>
<polygon points="139.00,419.06 140.60,421.94 137.40,421.94" fill="#2ca02c"/>
<polygon points="157.75,424.22 159.35,427.10 156.15,427.10" fill="#2ca02c"/>
<polygon points="176.50,431.01 178.10,433.89 174.90,433.89" fill="#2ca02c"/>
<polygon points="195.25,433.65 196.85,436.53 193.65,436.53" fill="#2ca02c"/>
<polygon points="214.00,431.63 215.60,434.51 212.40,434.51" fill="#2ca02c"/>
<polygon points="232.75,435.16 234.35,438.04 231.15,438.04" fill="#2ca02c"/>
<polyline points="64.00,407.94 82.75,413.23 101.50,414.86 120.25,414.48 139.00,417.63 157.75,423.29 176.50,431.46 195.25,434.35 214.00,433.35 232.75,437.50" fill="none" stroke="#d62728" stroke-width="1.2" stroke-linejoin="round"/>
<circle cx="64.00" cy="407.94" r="1.0" fill="#d62728"/>
<circle cx="82.75" cy="413.23" r="1.0" fill="#d62728"/>
<circle cx="101.50" cy="414.86" r="1.0" fill="#d62728"/>
<circle cx="120.25" cy="414.48" r="1.0" fill="#d62728"/>
<circle cx="139.00" cy="417.63" r="1.0" fill="#d62728"/>
<circle cx="157.75" cy="423.29" r="1.0" fill="#d62728"/>
<circle cx="176.50" cy="431.46" r="1.0" fill="#d62728"/>
<circle cx="195.25" cy="434.35" r="1.0" fill="#d62728"/>
<circle cx="214.00" cy="433.35" r="1.0" fill="#d62728"/>
<circle cx="232.75" cy="437.50" r="1.0" fill="#d62728"/>
<polyline points="64.00,405.93 82.75,409.71 101.50,411.34 120.25,412.35 139.00,417.00 157.75,421.53 176.50,427.81 195.25,430.96 214.00,433.98 232.75,439.00" fill="none" stroke="#9467bd" stroke-width="1.2" stroke-linejoin="round"/>
<polygon points="64.00,404.03 65.61,405.93 64.00,407.83 62.38,405.93" fill="#9467bd"/>
<polygon points="82.75,407.81 84.36,409.71 82.75,411.61 81.14,409.71" fill="#9467bd"/>
<polygon points="101.50,409.44 103.11,411.34 101.50,413.24 99.89,411.34" fill="#9467bd"/>
<polygon points="120.25,410.45 121.86,412.35 120.25,414.25 118.64,412.35" fill="#9467bd"/>
<polygon points="139.00,415.10 140.62,417.00 139.00,418.90 137.38,417.00" fill="#9467bd"/>
<polygon points="157.75,419.63 159.37,421.53 157.75,423.43 156.13,421.53" fill="#9467bd"/>
<polygon points="176.50,425.91 178.12,427.81 176.50,429.71 174.88,427.81" fill="#9467bd"/>
<polygon points="195.25,429.06 196.87,430.96 195.25,432.86 193.63,430.96" fill="#9467bd"/>
<polygon points="214.00,432.08 215.62,433.98 214.00,435.88 212.38,433.98" fill="#9467bd"/>
<polygon points="232.75,437.11 234.37,439.00 232.75,440.90 231.13,439.00" fill="#9467bd"/>
<rect x="26.50" y="389.96" width="225.00" height="138.33" fill="none" stroke="#a6a6a6" stroke-width="0.9"/>
<line x1="45.25" y1="528.29" x2="45.25" y2="529.89" stroke="#bdbdbd" stroke-width="0.8"/>
<text x="43.29" y="535.49" font-family="Liberation Sans, sans-serif" font-size="6.99" stroke="#262626" stroke-width="0.1" fill="#262626" textLength="3.90" lengthAdjust="spacingAndGlyphs">0</text>
<line x1="82.75" y1="528.29" x2="82.75" y2="529.89" stroke="#bdbdbd" stroke-width="0.8"/>
<text x="80.80" y="535.49" font-family="Liberation Sans, sans-serif" font-size="6.99" stroke="#262626" stroke-width="0.1" fill="#262626" textLength="3.71" lengthAdjust="spacingAndGlyphs">1</text>
<line x1="120.25" y1="528.29" x2="120.25" y2="529.89" stroke="#bdbdbd" stroke-width="0.8"/>
<text x="118.38" y="535.49" font-family="Liberation Sans, sans-serif" font-size="6.99" stroke="#262626" stroke-width="0.1" fill="#262626" textLength="3.75" lengthAdjust="spacingAndGlyphs">2</text>
<line x1="157.75" y1="528.29" x2="157.75" y2="529.89" stroke="#bdbdbd" stroke-width="0.8"/>
<text x="155.88" y="535.49" font-family="Liberation Sans, sans-serif" font-size="6.99" stroke="#262626" stroke-width="0.1" fill="#262626" textLength="3.75" lengthAdjust="spacingAndGlyphs">3</text>
<line x1="195.25" y1="528.29" x2="195.25" y2="529.89" stroke="#bdbdbd" stroke-width="0.8"/>
<text x="193.34" y="535.49" font-family="Liberation Sans, sans-serif" font-size="6.99" stroke="#262626" stroke-width="0.1" fill="#262626" textLength="3.89" lengthAdjust="spacingAndGlyphs">4</text>
<line x1="232.75" y1="528.29" x2="232.75" y2="529.89" stroke="#bdbdbd" stroke-width="0.8"/>
<text x="230.90" y="535.49" font-family="Liberation Sans, sans-serif" font-size="6.99" stroke="#262626" stroke-width="0.1" fill="#262626" textLength="3.71" lengthAdjust="spacingAndGlyphs">5</text>
<line x1="24.90" y1="522.00" x2="26.50" y2="522.00" stroke="#bdbdbd" stroke-width="0.8"/>
<text x="14.57" y="524.80" font-family="Liberation Sans, sans-serif" font-size="6.99" stroke="#262626" stroke-width="0.1" fill="#262626" textLength="10.29" lengthAdjust="spacingAndGlyphs">0.0</text>
<line x1="24.90" y1="496.85" x2="26.50" y2="496.85" stroke="#bdbdbd" stroke-width="0.8"/>
<text x="14.80" y="499.65" font-family="Liberation Sans, sans-serif" font-size="6.99" stroke="#262626" stroke-width="0.1" fill="#262626" textLength="10.16" lengthAdjust="spacingAndGlyphs">0.2</text>
<line x1="24.90" y1="471.70" x2="26.50" y2="471.70" stroke="#bdbdbd" stroke-width="0.8"/>
<text x="14.50" y="474.50" font-family="Liberation Sans, sans-serif" font-size="6.99" stroke="#262626" stroke-width="0.1" fill="#262626" textLength="10.33" lengthAdjust="spacingAndGlyphs">0.4</text>
<line x1="24.90" y1="446.55" x2="26.50" y2="446.55" stroke="#bdbdbd" stroke-width="0.8"/>
<text x="14.53" y="449.35" font-family="Liberation Sans, sans-serif" font-size="6.99" stroke="#262626" stroke-width="0.1" fill="#262626" textLength="10.37" lengthAdjust="spacingAndGlyphs">0.6</text>
<line x1="24.90" y1="421.40" x2="26.50" y2="421.40" stroke="#bdbdbd" stroke-width="0.8"/>
<text x="14.56" y="424.20" font-family="Liberation Sans, sans-serif" font-size="6.99" stroke="#262626" stroke-width="0.1" fill="#262626" textLength="10.33" lengthAdjust="spacingAndGlyphs">0.8</text>
<line x1="24.90" y1="396.25" x2="26.50" y2="396.25" stroke="#bdbdbd" stroke-width="0.8"/>
<text x="14.61" y="399.05" font-family="Liberation Sans, sans-serif" font-size="6.99" stroke="#262626" stroke-width="0.1" fill="#262626" textLength="10.25" lengthAdjust="spacingAndGlyphs">1.0</text>
<text x="109.81" y="542.99" font-family="Liberation Sans, sans-serif" font-size="6.99" stroke="#262626" stroke-width="0.1" fill="#262626" textLength="58.24" lengthAdjust="spacingAndGlyphs">Lead Time (Days)</text>
<text transform="translate(11.70,458.12) rotate(-90)" x="-37.45" y="0" font-family="Liberation Sans, sans-serif" font-size="6.99" stroke="#262626" stroke-width="0.1" fill="#262626" textLength="74.56" lengthAdjust="spacingAndGlyphs">Correlation Coefficient</text>
<text x="119.01" y="379.40" font-family="Liberation Sans, sans-serif" font-size="8.33" stroke="#262626" stroke-width="0.1" fill="#262626" textLength="39.98" lengthAdjust="spacingAndGlyphs">Singapore</text>
<text x="12.48" y="380.06" font-family="Liberation Sans, sans-serif" font-size="6.92" font-weight="bold" stroke="#000" stroke-width="0.1" fill="#000" textLength="10.18" lengthAdjust="spacingAndGlyphs">(e)</text>
<line x1="285.75" y1="389.96" x2="285.75" y2="528.29" stroke="#f8f8f8" stroke-width="0.7"/>
<line x1="293.24" y1="389.96" x2="293.24" y2="528.29" stroke="#f8f8f8" stroke-width="0.7"/>
<line x1="308.22" y1="389.96" x2="308.22" y2="528.29" stroke="#f8f8f8" stroke-width="0.7"/>
<line x1="315.71" y1="389.96" x2="315.71" y2="528.29" stroke="#f8f8f8" stroke-width="0.7"/>
<line x1="323.20" y1="389.96" x2="323.20" y2="528.29" stroke="#f8f8f8" stroke-width="0.7"/>
<line x1="330.70" y1="389.96" x2="330.70" y2="528.29" stroke="#f8f8f8" stroke-width="0.7"/>
<line x1="345.68" y1="389.96" x2="345.68" y2="528.29" stroke="#f8f8f8" stroke-width="0.7"/>
<line x1="353.17" y1="389.96" x2="353.17" y2="528.29" stroke="#f8f8f8" stroke-width="0.7"/>
<line x1="360.66" y1="389.96" x2="360.66" y2="528.29" stroke="#f8f8f8" stroke-width="0.7"/>
<line x1="368.15" y1="389.96" x2="368.15" y2="528.29" stroke="#f8f8f8" stroke-width="0.7"/>
<line x1="383.14" y1="389.96" x2="383.14" y2="528.29" stroke="#f8f8f8" stroke-width="0.7"/>
<line x1="390.63" y1="389.96" x2="390.63" y2="528.29" stroke="#f8f8f8" stroke-width="0.7"/>
<line x1="398.12" y1="389.96" x2="398.12" y2="528.29" stroke="#f8f8f8" stroke-width="0.7"/>
<line x1="405.61" y1="389.96" x2="405.61" y2="528.29" stroke="#f8f8f8" stroke-width="0.7"/>
<line x1="420.60" y1="389.96" x2="420.60" y2="528.29" stroke="#f8f8f8" stroke-width="0.7"/>
<line x1="428.09" y1="389.96" x2="428.09" y2="528.29" stroke="#f8f8f8" stroke-width="0.7"/>
<line x1="435.58" y1="389.96" x2="435.58" y2="528.29" stroke="#f8f8f8" stroke-width="0.7"/>
<line x1="443.07" y1="389.96" x2="443.07" y2="528.29" stroke="#f8f8f8" stroke-width="0.7"/>
<line x1="458.05" y1="389.96" x2="458.05" y2="528.29" stroke="#f8f8f8" stroke-width="0.7"/>
<line x1="465.55" y1="389.96" x2="465.55" y2="528.29" stroke="#f8f8f8" stroke-width="0.7"/>
<line x1="473.04" y1="389.96" x2="473.04" y2="528.29" stroke="#f8f8f8" stroke-width="0.7"/>
<line x1="480.53" y1="389.96" x2="480.53" y2="528.29" stroke="#f8f8f8" stroke-width="0.7"/>
<line x1="495.51" y1="389.96" x2="495.51" y2="528.29" stroke="#f8f8f8" stroke-width="0.7"/>
<line x1="503.00" y1="389.96" x2="503.00" y2="528.29" stroke="#f8f8f8" stroke-width="0.7"/>
<line x1="282.00" y1="515.71" x2="506.75" y2="515.71" stroke="#f8f8f8" stroke-width="0.7"/>
<line x1="282.00" y1="509.43" x2="506.75" y2="509.43" stroke="#f8f8f8" stroke-width="0.7"/>
<line x1="282.00" y1="503.14" x2="506.75" y2="503.14" stroke="#f8f8f8" stroke-width="0.7"/>
<line x1="282.00" y1="490.56" x2="506.75" y2="490.56" stroke="#f8f8f8" stroke-width="0.7"/>
<line x1="282.00" y1="484.27" x2="506.75" y2="484.27" stroke="#f8f8f8" stroke-width="0.7"/>
<line x1="282.00" y1="477.99" x2="506.75" y2="477.99" stroke="#f8f8f8" stroke-width="0.7"/>
<line x1="282.00" y1="465.41" x2="506.75" y2="465.41" stroke="#f8f8f8" stroke-width="0.7"/>
<line x1="282.00" y1="459.12" x2="506.75" y2="459.12" stroke="#f8f8f8" stroke-width="0.7"/>
<line x1="282.00" y1="452.84" x2="506.75" y2="452.84" stroke="#f8f8f8" stroke-width="0.7"/>
<line x1="282.00" y1="440.26" x2="506.75" y2="440.26" stroke="#f8f8f8" stroke-width="0.7"/>
<line x1="282.00" y1="433.98" x2="506.75" y2="433.98" stroke="#f8f8f8" stroke-width="0.7"/>
<line x1="282.00" y1="427.69" x2="506.75" y2="427.69" stroke="#f8f8f8" stroke-width="0.7"/>
<line x1="282.00" y1="415.11" x2="506.75" y2="415.11" stroke="#f8f8f8" stroke-width="0.7"/>
<line x1="282.00" y1="408.82" x2="506.75" y2="408.82" stroke="#f8f8f8" stroke-width="0.7"/>
<line x1="282.00" y1="402.54" x2="506.75" y2="402.54" stroke="#f8f8f8" stroke-width="0.7"/>
<line x1="300.73" y1="389.96" x2="300.73" y2="528.29" stroke="#ececec" stroke-width="0.9"/>
<line x1="338.19" y1="389.96" x2="338.19" y2="528.29" stroke="#ececec" stroke-width="0.9"/>
<line x1="375.65" y1="389.96" x2="375.65" y2="528.29" stroke="#ececec" stroke-width="0.9"/>
<line x1="413.10" y1="389.96" x2="413.10" y2="528.29" stroke="#ececec" stroke-width="0.9"/>
<line x1="450.56" y1="389.96" x2="450.56" y2="528.29" stroke="#ececec" stroke-width="0.9"/>
<line x1="488.02" y1="389.96" x2="488.02" y2="528.29" stroke="#ececec" stroke-width="0.9"/>
<line x1="282.00" y1="522.00" x2="506.75" y2="522.00" stroke="#ececec" stroke-width="0.9"/>
<line x1="282.00" y1="496.85" x2="506.75" y2="496.85" stroke="#ececec" stroke-width="0.9"/>
<line x1="282.00" y1="471.70" x2="506.75" y2="471.70" stroke="#ececec" stroke-width="0.9"/>
<line x1="282.00" y1="446.55" x2="506.75" y2="446.55" stroke="#ececec" stroke-width="0.9"/>
<line x1="282.00" y1="421.40" x2="506.75" y2="421.40" stroke="#ececec" stroke-width="0.9"/>
<line x1="282.00" y1="396.25" x2="506.75" y2="396.25" stroke="#ececec" stroke-width="0.9"/>
<polygon points="319.46,408.95 338.19,419.53 356.92,420.64 375.65,425.17 394.38,420.54 413.10,424.47 431.83,432.30 450.56,438.64 469.29,447.50 488.02,461.64 488.02,476.73 469.29,461.70 450.56,451.95 431.83,444.70 413.10,435.94 394.38,431.07 375.65,434.73 356.92,429.20 338.19,427.04 319.46,415.24" fill="#1f77b4" fill-opacity="0.1"/>
<polygon points="319.46,404.68 338.19,404.94 356.92,407.49 375.65,411.25 394.38,414.22 413.10,416.78 431.83,419.31 450.56,429.75 469.29,434.76 488.02,450.83 488.02,464.66 469.29,447.27 450.56,440.96 431.83,429.27 413.10,425.52 394.38,421.79 375.65,417.72 356.92,412.92 338.19,409.44 319.46,408.45" fill="#ff7f0e" fill-opacity="0.1"/>
<polygon points="319.46,402.91 338.19,403.23 356.92,405.33 375.65,405.51 394.38,408.55 413.10,409.42 431.83,414.42 450.56,422.29 469.29,424.50 488.02,433.22 488.02,445.80 469.29,435.91 450.56,432.58 431.83,423.60 413.10,417.54 394.38,415.64 375.65,411.64 356.92,410.55 338.19,407.63 319.46,406.69" fill="#2ca02c" fill-opacity="0.1"/>
<polygon points="319.46,402.54 338.19,402.90 356.92,404.68 375.65,403.67 394.38,405.89 413.10,407.59 431.83,411.03 450.56,414.96 469.29,420.64 488.02,428.06 488.02,439.38 469.29,430.96 450.56,424.32 431.83,419.44 413.10,415.09 394.38,412.51 375.65,409.46 356.92,409.70 338.19,407.21 319.46,406.31" fill="#d62728" fill-opacity="0.1"/>
<polygon points="319.46,401.53 338.19,402.94 356.92,405.16 375.65,406.98 394.38,408.01 413.10,408.28 431.83,411.42 450.56,414.67 469.29,418.67 488.02,422.66 488.02,432.72 469.29,427.90 450.56,423.10 431.83,419.06 413.10,415.16 394.38,414.16 375.65,412.43 356.92,409.97 338.19,407.16 319.46,405.30" fill="#9467bd" fill-opacity="0.1"/>
<polyline points="319.46,412.09 338.19,423.29 356.92,424.92 375.65,429.95 394.38,425.80 413.10,430.20 431.83,438.50 450.56,445.29 469.29,454.60 488.02,469.19" fill="none" stroke="#1f77b4" stroke-width="1.2" stroke-linejoin="round"/>
<circle cx="319.46" cy="412.09" r="1.55" fill="#1f77b4"/>
<circle cx="338.19" cy="423.29" r="1.55" fill="#1f77b4"/>
<circle cx="356.92" cy="424.92" r="1.55" fill="#1f77b4"/>
<circle cx="375.65" cy="429.95" r="1.55" fill="#1f77b4"/>
<circle cx="394.38" cy="425.80" r="1.55" fill="#1f77b4"/>
<circle cx="413.10" cy="430.20" r="1.55" fill="#1f77b4"/>
<circle cx="431.83" cy="438.50" r="1.55" fill="#1f77b4"/>
<circle cx="450.56" cy="445.29" r="1.55" fill="#1f77b4"/>
<circle cx="469.29" cy="454.60" r="1.55" fill="#1f77b4"/>
<circle cx="488.02" cy="469.19" r="1.55" fill="#1f77b4"/>
<polyline points="319.46,406.56 338.19,407.19 356.92,410.21 375.65,414.48 394.38,418.00 413.10,421.15 431.83,424.29 450.56,435.36 469.29,441.02 488.02,457.74" fill="none" stroke="#ff7f0e" stroke-width="1.2" stroke-linejoin="round"/>
<rect x="318.06" y="405.16" width="2.8" height="2.8" fill="#ff7f0e"/>
<rect x="336.79" y="405.79" width="2.8" height="2.8" fill="#ff7f0e"/>
<rect x="355.52" y="408.81" width="2.8" height="2.8" fill="#ff7f0e"/>
<rect x="374.25" y="413.08" width="2.8" height="2.8" fill="#ff7f0e"/>
<rect x="392.98" y="416.60" width="2.8" height="2.8" fill="#ff7f0e"/>
<rect x="411.70" y="419.75" width="2.8" height="2.8" fill="#ff7f0e"/>
<rect x="430.43" y="422.89" width="2.8" height="2.8" fill="#ff7f0e"/>
<rect x="449.16" y="433.96" width="2.8" height="2.8" fill="#ff7f0e"/>
<rect x="467.89" y="439.62" width="2.8" height="2.8" fill="#ff7f0e"/>
<rect x="486.62" y="456.34" width="2.8" height="2.8" fill="#ff7f0e"/>
<polyline points="319.46,404.80 338.19,405.43 356.92,407.94 375.65,408.57 394.38,412.09 413.10,413.48 431.83,419.01 450.56,427.44 469.29,430.20 488.02,439.51" fill="none" stroke="#2ca02c" stroke-width="1.2" stroke-linejoin="round"/>
<polygon points="319.46,403.09 321.06,405.97 317.86,405.97" fill="#2ca02c"/>
<polygon points="338.19,403.72 339.79,406.60 336.59,406.60" fill="#2ca02c"/>
<polygon points="356.92,406.23 358.52,409.11 355.32,409.11" fill="#2ca02c"/>
<polygon points="375.65,406.86 377.25,409.74 374.05,409.74" fill="#2ca02c"/>
<polygon points="394.38,410.38 395.98,413.26 392.77,413.26" fill="#2ca02c"/>
<polygon points="413.10,411.77 414.70,414.65 411.50,414.65" fill="#2ca02c"/>
<polygon points="431.83,417.30 433.43,420.18 430.23,420.18" fill="#2ca02c"/>
<polygon points="450.56,425.72 452.16,428.60 448.96,428.60" fill="#2ca02c"/>
<polygon points="469.29,428.49 470.89,431.37 467.69,431.37" fill="#2ca02c"/>
<polygon points="488.02,437.80 489.62,440.68 486.42,440.68" fill="#2ca02c"/>
<polyline points="319.46,404.42 338.19,405.05 356.92,407.19 375.65,406.56 394.38,409.20 413.10,411.34 431.83,415.24 450.56,419.64 469.29,425.80 488.02,433.72" fill="none" stroke="#d62728" stroke-width="1.2" stroke-linejoin="round"/>
<circle cx="319.46" cy="404.42" r="1.0" fill="#d62728"/>
<circle cx="338.19" cy="405.05" r="1.0" fill="#d62728"/>
<circle cx="356.92" cy="407.19" r="1.0" fill="#d62728"/>
<circle cx="375.65" cy="406.56" r="1.0" fill="#d62728"/>
<circle cx="394.38" cy="409.20" r="1.0" fill="#d62728"/>
<circle cx="413.10" cy="411.34" r="1.0" fill="#d62728"/>
<circle cx="431.83" cy="415.24" r="1.0" fill="#d62728"/>
<circle cx="450.56" cy="419.64" r="1.0" fill="#d62728"/>
<circle cx="469.29" cy="425.80" r="1.0" fill="#d62728"/>
<circle cx="488.02" cy="433.72" r="1.0" fill="#d62728"/>
<polyline points="319.46,403.42 338.19,405.05 356.92,407.57 375.65,409.71 394.38,411.09 413.10,411.72 431.83,415.24 450.56,418.88 469.29,423.29 488.02,427.69" fill="none" stroke="#9467bd" stroke-width="1.2" stroke-linejoin="round"/>
<polygon points="319.46,401.52 321.07,403.42 319.46,405.32 317.84,403.42" fill="#9467bd"/>
<polygon points="338.19,403.15 339.80,405.05 338.19,406.95 336.57,405.05" fill="#9467bd"/>
<polygon points="356.92,405.67 358.53,407.57 356.92,409.47 355.30,407.57" fill="#9467bd"/>
<polygon points="375.65,407.81 377.26,409.71 375.65,411.61 374.03,409.71" fill="#9467bd"/>
<polygon points="394.38,409.19 395.99,411.09 394.38,412.99 392.76,411.09" fill="#9467bd"/>
<polygon points="413.10,409.82 414.72,411.72 413.10,413.62 411.49,411.72" fill="#9467bd"/>
<polygon points="431.83,413.34 433.45,415.24 431.83,417.14 430.22,415.24" fill="#9467bd"/>
<polygon points="450.56,416.99 452.18,418.88 450.56,420.78 448.95,418.88" fill="#9467bd"/>
<polygon points="469.29,421.39 470.91,423.29 469.29,425.19 467.68,423.29" fill="#9467bd"/>
<polygon points="488.02,425.79 489.64,427.69 488.02,429.59 486.41,427.69" fill="#9467bd"/>
<rect x="282.00" y="389.96" width="224.75" height="138.33" fill="none" stroke="#a6a6a6" stroke-width="0.9"/>
<line x1="300.73" y1="528.29" x2="300.73" y2="529.89" stroke="#bdbdbd" stroke-width="0.8"/>
<text x="298.76" y="535.49" font-family="Liberation Sans, sans-serif" font-size="6.99" stroke="#262626" stroke-width="0.1" fill="#262626" textLength="3.90" lengthAdjust="spacingAndGlyphs">0</text>
<line x1="338.19" y1="528.29" x2="338.19" y2="529.89" stroke="#bdbdbd" stroke-width="0.8"/>
<text x="336.24" y="535.49" font-family="Liberation Sans, sans-serif" font-size="6.99" stroke="#262626" stroke-width="0.1" fill="#262626" textLength="3.71" lengthAdjust="spacingAndGlyphs">1</text>
<line x1="375.65" y1="528.29" x2="375.65" y2="529.89" stroke="#bdbdbd" stroke-width="0.8"/>
<text x="373.77" y="535.49" font-family="Liberation Sans, sans-serif" font-size="6.99" stroke="#262626" stroke-width="0.1" fill="#262626" textLength="3.75" lengthAdjust="spacingAndGlyphs">2</text>
<line x1="413.10" y1="528.29" x2="413.10" y2="529.89" stroke="#bdbdbd" stroke-width="0.8"/>
<text x="411.23" y="535.49" font-family="Liberation Sans, sans-serif" font-size="6.99" stroke="#262626" stroke-width="0.1" fill="#262626" textLength="3.75" lengthAdjust="spacingAndGlyphs">3</text>
<line x1="450.56" y1="528.29" x2="450.56" y2="529.89" stroke="#bdbdbd" stroke-width="0.8"/>
<text x="448.65" y="535.49" font-family="Liberation Sans, sans-serif" font-size="6.99" stroke="#262626" stroke-width="0.1" fill="#262626" textLength="3.89" lengthAdjust="spacingAndGlyphs">4</text>
<line x1="488.02" y1="528.29" x2="488.02" y2="529.89" stroke="#bdbdbd" stroke-width="0.8"/>
<text x="486.17" y="535.49" font-family="Liberation Sans, sans-serif" font-size="6.99" stroke="#262626" stroke-width="0.1" fill="#262626" textLength="3.71" lengthAdjust="spacingAndGlyphs">5</text>
<line x1="280.40" y1="522.00" x2="282.00" y2="522.00" stroke="#bdbdbd" stroke-width="0.8"/>
<text x="270.07" y="524.80" font-family="Liberation Sans, sans-serif" font-size="6.99" stroke="#262626" stroke-width="0.1" fill="#262626" textLength="10.29" lengthAdjust="spacingAndGlyphs">0.0</text>
<line x1="280.40" y1="496.85" x2="282.00" y2="496.85" stroke="#bdbdbd" stroke-width="0.8"/>
<text x="270.30" y="499.65" font-family="Liberation Sans, sans-serif" font-size="6.99" stroke="#262626" stroke-width="0.1" fill="#262626" textLength="10.16" lengthAdjust="spacingAndGlyphs">0.2</text>
<line x1="280.40" y1="471.70" x2="282.00" y2="471.70" stroke="#bdbdbd" stroke-width="0.8"/>
<text x="270.00" y="474.50" font-family="Liberation Sans, sans-serif" font-size="6.99" stroke="#262626" stroke-width="0.1" fill="#262626" textLength="10.33" lengthAdjust="spacingAndGlyphs">0.4</text>
<line x1="280.40" y1="446.55" x2="282.00" y2="446.55" stroke="#bdbdbd" stroke-width="0.8"/>
<text x="270.03" y="449.35" font-family="Liberation Sans, sans-serif" font-size="6.99" stroke="#262626" stroke-width="0.1" fill="#262626" textLength="10.37" lengthAdjust="spacingAndGlyphs">0.6</text>
<line x1="280.40" y1="421.40" x2="282.00" y2="421.40" stroke="#bdbdbd" stroke-width="0.8"/>
<text x="270.06" y="424.20" font-family="Liberation Sans, sans-serif" font-size="6.99" stroke="#262626" stroke-width="0.1" fill="#262626" textLength="10.33" lengthAdjust="spacingAndGlyphs">0.8</text>
<line x1="280.40" y1="396.25" x2="282.00" y2="396.25" stroke="#bdbdbd" stroke-width="0.8"/>
<text x="270.11" y="399.05" font-family="Liberation Sans, sans-serif" font-size="6.99" stroke="#262626" stroke-width="0.1" fill="#262626" textLength="10.25" lengthAdjust="spacingAndGlyphs">1.0</text>
<text x="365.19" y="542.99" font-family="Liberation Sans, sans-serif" font-size="6.99" stroke="#262626" stroke-width="0.1" fill="#262626" textLength="58.24" lengthAdjust="spacingAndGlyphs">Lead Time (Days)</text>
<text transform="translate(267.20,458.12) rotate(-90)" x="-37.45" y="0" font-family="Liberation Sans, sans-serif" font-size="6.99" stroke="#262626" stroke-width="0.1" fill="#262626" textLength="74.56" lengthAdjust="spacingAndGlyphs">Correlation Coefficient</text>
<text x="380.00" y="379.40" font-family="Liberation Sans, sans-serif" font-size="8.33" stroke="#262626" stroke-width="0.1" fill="#262626" textLength="28.94" lengthAdjust="spacingAndGlyphs">Suzhou</text>
<text x="267.97" y="380.06" font-family="Liberation Sans, sans-serif" font-size="6.92" font-weight="bold" stroke="#000" stroke-width="0.1" fill="#000" textLength="8.61" lengthAdjust="spacingAndGlyphs">(f)</text>
<rect x="340.1" y="493.3" width="163.5" height="29.8" rx="1.5" fill="#fff" fill-opacity="0.8" stroke="#e2e2e2" stroke-width="0.8"/>
<line x1="342.60" y1="499.30" x2="356.30" y2="499.30" stroke="#1f77b4" stroke-width="1.05"/>
<circle cx="349.45" cy="499.30" r="1.55" fill="#1f77b4"/>
<text x="361.30" y="501.80" font-family="Liberation Sans, sans-serif" font-size="6.86" stroke="#262626" stroke-width="0.1" fill="#262626" textLength="52.23" lengthAdjust="spacingAndGlyphs">diameter100km</text>
<line x1="342.60" y1="508.90" x2="356.30" y2="508.90" stroke="#ff7f0e" stroke-width="1.05"/>
<rect x="348.05" y="507.50" width="2.8" height="2.8" fill="#ff7f0e"/>
<text x="361.30" y="511.40" font-family="Liberation Sans, sans-serif" font-size="6.86" stroke="#262626" stroke-width="0.1" fill="#262626" textLength="52.23" lengthAdjust="spacingAndGlyphs">diameter450km</text>
<line x1="342.60" y1="518.50" x2="356.30" y2="518.50" stroke="#2ca02c" stroke-width="1.05"/>
<polygon points="349.45,516.79 351.05,519.67 347.85,519.67" fill="#2ca02c"/>
<text x="361.30" y="521.00" font-family="Liberation Sans, sans-serif" font-size="6.86" stroke="#262626" stroke-width="0.1" fill="#262626" textLength="52.23" lengthAdjust="spacingAndGlyphs">diameter900km</text>
<line x1="425.70" y1="499.30" x2="439.40" y2="499.30" stroke="#d62728" stroke-width="1.05"/>
<circle cx="432.55" cy="499.30" r="1.0" fill="#d62728"/>
<text x="444.40" y="501.80" font-family="Liberation Sans, sans-serif" font-size="6.86" stroke="#262626" stroke-width="0.1" fill="#262626" textLength="56.39" lengthAdjust="spacingAndGlyphs">diameter1350km</text>
<line x1="425.70" y1="508.90" x2="439.40" y2="508.90" stroke="#9467bd" stroke-width="1.05"/>
<polygon points="432.55,507.00 434.17,508.90 432.55,510.80 430.94,508.90" fill="#9467bd"/>
<text x="444.40" y="511.40" font-family="Liberation Sans, sans-serif" font-size="6.86" stroke="#262626" stroke-width="0.1" fill="#262626" textLength="56.39" lengthAdjust="spacingAndGlyphs">diameter1800km</text>
</svg>
</body></html>
